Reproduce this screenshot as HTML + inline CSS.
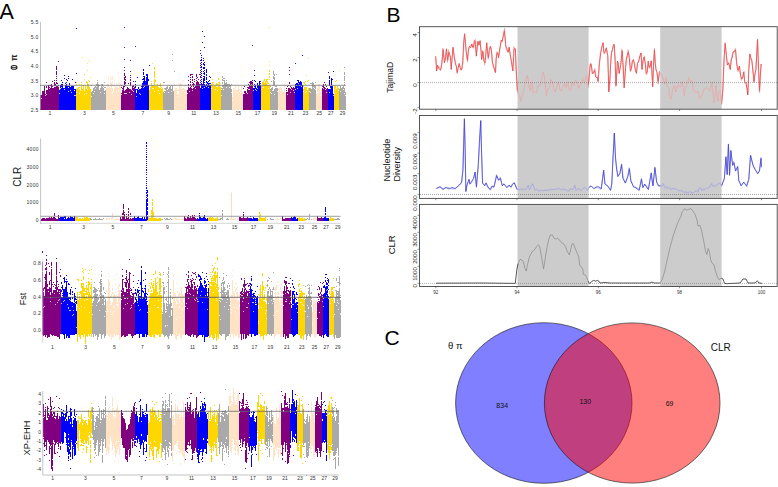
<!DOCTYPE html>
<html><head><meta charset="utf-8"><title>figure</title>
<style>html,body{margin:0;padding:0;background:#fff;width:778px;height:487px;overflow:hidden}svg{display:block}text{font-family:"Liberation Sans",sans-serif}</style>
</head><body>
<svg width="778" height="487" viewBox="0 0 778 487" shape-rendering="auto">
<path d="M40.5 110V96M40.5 96V95M40.5 86V85M40.5 96V95M41.5 110V96M41.5 96V95M41.5 96V95M42.5 110V92M42.5 93V92M42.5 92V91M43.5 110V91M44.5 110V86M45.5 110V94M46.5 110V91M46.5 91V90M46.5 88V87M46.5 87V86M47.5 110V90M48.5 110V87M48.5 86V85M48.5 87V86M49.5 110V87M49.5 86V85M50.5 110V88M50.5 86V85M51.5 110V87M51.5 86V85M51.5 85V84M51.5 87V86M52.5 110V88M52.5 87V86M53.5 110V88M54.5 110V83M54.5 83V82M55.5 110V84M55.5 85V84M56.5 110V86M56.5 83V82M56.5 84V83M56.5 81V80M57.5 110V86M57.5 84V83M58.5 110V85M58.5 86V85" stroke="#800080" stroke-width="1" fill="none" shape-rendering="crispEdges"/>
<path d="M41.5 98v1M45.5 95v1M46.5 94v1M49.5 88v1M54.5 86v1M55.5 86v1M58.5 86v1" stroke="#ffffff" stroke-width="1" fill="none" shape-rendering="crispEdges" stroke-opacity="0.8"/>
<path d="M59.5 110V91M59.5 91V90M60.5 110V86M60.5 86V85M61.5 110V84M61.5 81V80M62.5 110V82M63.5 110V88M64.5 110V88M65.5 110V85M65.5 84V83M66.5 110V84M66.5 80V79M66.5 83V82M67.5 110V86M67.5 81V80M68.5 110V88M68.5 87V86M69.5 110V83M69.5 84V83M70.5 110V87M71.5 110V88M71.5 88V87M71.5 87V86M72.5 110V86M72.5 80V79M73.5 110V86M73.5 87V86M74.5 110V91M74.5 90V89M75.5 110V91M75.5 90V89M75.5 83V82M75.5 91V90" stroke="#0000ff" stroke-width="1" fill="none" shape-rendering="crispEdges"/>
<path d="M59.5 93v1M60.5 88v1M61.5 87v1M62.5 83v1M64.5 89v1M68.5 91v1M69.5 85v1M70.5 90v1M71.5 92v1M74.5 95v1M75.5 95v1" stroke="#ffffff" stroke-width="1" fill="none" shape-rendering="crispEdges" stroke-opacity="0.8"/>
<path d="M76.5 110V89M76.5 83V82M76.5 85V84M77.5 110V88M78.5 110V87M79.5 110V89M79.5 85V84M79.5 88V87M80.5 110V91M81.5 110V86M81.5 83V82M81.5 87V86M81.5 85V84M82.5 110V90M82.5 90V89M83.5 110V86M83.5 86V85M84.5 110V91M84.5 92V91M85.5 110V86M85.5 86V85M86.5 110V89M86.5 83V82M87.5 110V84M87.5 84V83M87.5 84V83M87.5 83V82M88.5 110V84M89.5 110V88M89.5 88V87M89.5 88V87M89.5 82V81M90.5 110V89" stroke="#ffd700" stroke-width="1" fill="none" shape-rendering="crispEdges"/>
<path d="M76.5 92v1M78.5 89v1M79.5 93v1M84.5 94v1M86.5 93v1M87.5 89v1" stroke="#ffffff" stroke-width="1" fill="none" shape-rendering="crispEdges" stroke-opacity="0.8"/>
<path d="M91.5 110V92M91.5 86V85M92.5 110V92M92.5 92V91M93.5 110V88M94.5 110V87M95.5 110V86M96.5 110V85M96.5 85V84M97.5 110V88M97.5 88V87M97.5 87V86M97.5 86V85M98.5 110V84M98.5 85V84M98.5 85V84M99.5 110V90M99.5 86V85M100.5 110V88M101.5 110V87M101.5 87V86M101.5 85V84M102.5 110V85M102.5 85V84M102.5 85V84M103.5 110V88M103.5 87V86M104.5 110V91M104.5 83V82M104.5 88V87M105.5 110V90M105.5 88V87M105.5 88V87" stroke="#a9a9a9" stroke-width="1" fill="none" shape-rendering="crispEdges"/>
<path d="M91.5 96v1M93.5 93v1M94.5 91v1M95.5 88v1M96.5 86v1M100.5 92v1M102.5 86v1M104.5 93v1" stroke="#ffffff" stroke-width="1" fill="none" shape-rendering="crispEdges" stroke-opacity="0.8"/>
<path d="M106.5 110V88M106.5 78V77M107.5 110V84M108.5 110V88M108.5 87V86M109.5 110V88M109.5 88V87M110.5 110V88M111.5 110V83M111.5 80V79M111.5 83V82M111.5 78V77M112.5 110V88M112.5 79V78M113.5 110V92M114.5 110V85M115.5 110V87M115.5 87V86M116.5 110V87M116.5 84V83M117.5 110V87M118.5 110V88M119.5 110V83M120.5 110V86M120.5 85V84" stroke="#ffe3c4" stroke-width="1" fill="none" shape-rendering="crispEdges"/>
<path d="M112.5 92v1M113.5 95v1M114.5 87v1M116.5 91v1M118.5 90v1M119.5 84v1" stroke="#ffffff" stroke-width="1" fill="none" shape-rendering="crispEdges" stroke-opacity="0.8"/>
<path d="M121.5 110V93M121.5 88V87M121.5 86V85M122.5 110V88M123.5 110V86M124.5 110V91M125.5 110V90M126.5 110V89M127.5 110V87M128.5 110V88M128.5 84V83M129.5 110V89M130.5 110V89M131.5 110V90M132.5 110V87M132.5 87V86M133.5 110V88M133.5 87V86M133.5 86V85M133.5 82V81M134.5 110V88M134.5 88V87" stroke="#800080" stroke-width="1" fill="none" shape-rendering="crispEdges"/>
<path d="M121.5 94v1M122.5 89v1M124.5 93v1M125.5 93v1M126.5 93v1M129.5 92v1M131.5 94v1M132.5 90v1M133.5 91v1" stroke="#ffffff" stroke-width="1" fill="none" shape-rendering="crispEdges" stroke-opacity="0.8"/>
<path d="M135.5 110V86M135.5 82V81M135.5 85V84M135.5 85V84M136.5 110V93M136.5 90V89M137.5 110V89M137.5 78V77M138.5 110V87M138.5 88V87M139.5 110V89M140.5 110V89M141.5 110V86M142.5 110V84M142.5 80V79M142.5 84V83M143.5 110V85M144.5 110V82M145.5 110V81M146.5 110V77M146.5 75V74M146.5 76V75M146.5 76V75M147.5 110V80M147.5 75V74M147.5 80V79M147.5 77V76M148.5 110V85M148.5 81V80M148.5 80V79" stroke="#0000ff" stroke-width="1" fill="none" shape-rendering="crispEdges"/>
<path d="M135.5 88v1M136.5 96v1M138.5 89v1M139.5 93v1M140.5 94v1M141.5 87v1M143.5 87v1M144.5 86v1" stroke="#ffffff" stroke-width="1" fill="none" shape-rendering="crispEdges" stroke-opacity="0.8"/>
<path d="M149.5 110V90M150.5 110V87M151.5 110V83M151.5 82V81M151.5 82V81M152.5 110V85M153.5 110V85M154.5 110V86M154.5 84V83M154.5 85V84M155.5 110V86M155.5 81V80M155.5 82V81M155.5 87V86M156.5 110V86M157.5 110V84M158.5 110V87M158.5 86V85M159.5 110V89M159.5 89V88M159.5 90V89M159.5 86V85M160.5 110V85M160.5 85V84M160.5 84V83M160.5 85V84M161.5 110V90M161.5 90V89M161.5 90V89M161.5 88V87M162.5 110V88" stroke="#ffd700" stroke-width="1" fill="none" shape-rendering="crispEdges"/>
<path d="M152.5 88v1M153.5 88v1M154.5 91v1M158.5 90v1M159.5 93v1M160.5 87v1" stroke="#ffffff" stroke-width="1" fill="none" shape-rendering="crispEdges" stroke-opacity="0.8"/>
<path d="M163.5 110V93M163.5 93V92M163.5 83V82M164.5 110V91M164.5 83V82M164.5 89V88M165.5 110V88M166.5 110V88M166.5 88V87M167.5 110V86M167.5 87V86M167.5 87V86M168.5 110V89M169.5 110V87M169.5 86V85M170.5 110V86M171.5 110V89M172.5 110V85M173.5 110V93M173.5 93V92M173.5 92V91M173.5 92V91" stroke="#a9a9a9" stroke-width="1" fill="none" shape-rendering="crispEdges"/>
<path d="M164.5 92v1M165.5 90v1M167.5 89v1M168.5 92v1M171.5 91v1" stroke="#ffffff" stroke-width="1" fill="none" shape-rendering="crispEdges" stroke-opacity="0.8"/>
<path d="M174.5 110V90M174.5 85V84M175.5 110V89M175.5 89V88M176.5 110V88M177.5 110V94M177.5 91V90M178.5 110V93M178.5 91V90M178.5 84V83M178.5 90V89M179.5 110V88M179.5 87V86M179.5 85V84M179.5 88V87M180.5 110V85M180.5 85V84M180.5 84V83M181.5 110V89M181.5 85V84M181.5 86V85M181.5 88V87M182.5 110V89M182.5 89V88M182.5 89V88M182.5 82V81M183.5 110V88M183.5 81V80M184.5 110V89M184.5 87V86M185.5 110V91M185.5 91V90M185.5 92V91M186.5 110V90" stroke="#ffe3c4" stroke-width="1" fill="none" shape-rendering="crispEdges"/>
<path d="M177.5 96v1M178.5 94v1M180.5 87v1M181.5 92v1M182.5 90v1M183.5 90v1M184.5 92v1M186.5 92v1" stroke="#ffffff" stroke-width="1" fill="none" shape-rendering="crispEdges" stroke-opacity="0.8"/>
<path d="M187.5 110V90M188.5 110V84M188.5 81V80M188.5 77V76M189.5 110V88M190.5 110V84M191.5 110V86M191.5 75V74M192.5 110V89M192.5 78V77M192.5 75V74M193.5 110V83M194.5 110V87M194.5 82V81M194.5 80V79M194.5 85V84M195.5 110V86M196.5 110V83M196.5 83V82M196.5 83V82M196.5 83V82M197.5 110V82M197.5 78V77M197.5 82V81M197.5 82V81M198.5 110V82M198.5 83V82M198.5 80V79M199.5 110V84M199.5 75V74" stroke="#800080" stroke-width="1" fill="none" shape-rendering="crispEdges"/>
<path d="M187.5 93v1M188.5 86v1M189.5 91v1M190.5 86v1M191.5 87v1M192.5 90v1M193.5 87v1M195.5 88v1" stroke="#ffffff" stroke-width="1" fill="none" shape-rendering="crispEdges" stroke-opacity="0.8"/>
<path d="M200.5 110V88M201.5 110V83M202.5 110V84M203.5 110V82M203.5 82V81M203.5 82V81M203.5 80V79M204.5 110V84M204.5 80V79M205.5 110V85M206.5 110V84M207.5 110V82M208.5 110V84M208.5 82V81M208.5 84V83M209.5 110V83M209.5 84V83M209.5 81V80M209.5 77V76M210.5 110V85M210.5 86V85M210.5 84V83M210.5 78V77" stroke="#0000ff" stroke-width="1" fill="none" shape-rendering="crispEdges"/>
<path d="M202.5 88v1M204.5 87v1M206.5 86v1M207.5 84v1M208.5 87v1M209.5 84v1" stroke="#ffffff" stroke-width="1" fill="none" shape-rendering="crispEdges" stroke-opacity="0.8"/>
<path d="M211.5 110V85M211.5 85V84M211.5 85V84M211.5 85V84M212.5 110V82M212.5 80V79M213.5 110V84M213.5 83V82M214.5 110V86M215.5 110V85M216.5 110V83M217.5 110V87M217.5 85V84M218.5 110V84M218.5 83V82M218.5 79V78M218.5 80V79M219.5 110V82M220.5 110V87" stroke="#ffd700" stroke-width="1" fill="none" shape-rendering="crispEdges"/>
<path d="M211.5 88v1M212.5 84v1M213.5 85v1M215.5 89v1M216.5 86v1M217.5 90v1M218.5 85v1" stroke="#ffffff" stroke-width="1" fill="none" shape-rendering="crispEdges" stroke-opacity="0.8"/>
<path d="M221.5 110V90M221.5 89V88M222.5 110V90M222.5 89V88M222.5 89V88M222.5 90V89M223.5 110V85M223.5 79V78M223.5 86V85M223.5 81V80M224.5 110V80M224.5 79V78M225.5 110V83M226.5 110V83M226.5 83V82M226.5 81V80M226.5 83V82M227.5 110V85M227.5 85V84M228.5 110V84M229.5 110V84M230.5 110V85M231.5 110V89M231.5 85V84" stroke="#a9a9a9" stroke-width="1" fill="none" shape-rendering="crispEdges"/>
<path d="M221.5 95v1M223.5 89v1M226.5 87v1M228.5 85v1M229.5 87v1M231.5 92v1" stroke="#ffffff" stroke-width="1" fill="none" shape-rendering="crispEdges" stroke-opacity="0.8"/>
<path d="M232.5 110V97M233.5 110V89M233.5 82V81M233.5 89V88M234.5 110V90M234.5 89V88M235.5 110V86M235.5 86V85M236.5 110V90M236.5 83V82M237.5 110V90M237.5 91V90M238.5 110V86M239.5 110V89M240.5 110V91M240.5 91V90M241.5 110V86M242.5 110V92" stroke="#ffe3c4" stroke-width="1" fill="none" shape-rendering="crispEdges"/>
<path d="M232.5 100v1M235.5 88v1M237.5 92v1M239.5 91v1M240.5 92v1M242.5 97v1" stroke="#ffffff" stroke-width="1" fill="none" shape-rendering="crispEdges" stroke-opacity="0.8"/>
<path d="M243.5 110V94M243.5 89V88M244.5 110V92M244.5 87V86M244.5 87V86M244.5 92V91M245.5 110V91M246.5 110V93M247.5 110V89M247.5 88V87M248.5 110V87M248.5 85V84M249.5 110V85M249.5 83V82M250.5 110V82M250.5 82V81M251.5 110V81M252.5 110V82M252.5 81V80" stroke="#800080" stroke-width="1" fill="none" shape-rendering="crispEdges"/>
<path d="M244.5 93v1M247.5 93v1M248.5 89v1M249.5 89v1M250.5 85v1M251.5 84v1M252.5 85v1" stroke="#ffffff" stroke-width="1" fill="none" shape-rendering="crispEdges" stroke-opacity="0.8"/>
<path d="M253.5 110V88M254.5 110V86M254.5 81V80M254.5 85V84M255.5 110V86M255.5 86V85M255.5 82V81M256.5 110V88M257.5 110V84M257.5 84V83M257.5 84V83M258.5 110V86M258.5 86V85M259.5 110V82M259.5 82V81M260.5 110V86M260.5 84V83M260.5 82V81M260.5 86V85" stroke="#0000ff" stroke-width="1" fill="none" shape-rendering="crispEdges"/>
<path d="M253.5 90v1M254.5 87v1M255.5 89v1M256.5 90v1M257.5 88v1" stroke="#ffffff" stroke-width="1" fill="none" shape-rendering="crispEdges" stroke-opacity="0.8"/>
<path d="M261.5 110V85M262.5 110V82M262.5 83V82M263.5 110V82M263.5 82V81M263.5 82V81M264.5 110V83M264.5 80V79M264.5 81V80M265.5 110V81M265.5 82V81M266.5 110V80M266.5 80V79M267.5 110V81M267.5 80V79M268.5 110V85M268.5 84V83M269.5 110V85M269.5 80V79" stroke="#ffd700" stroke-width="1" fill="none" shape-rendering="crispEdges"/>
<path d="M262.5 85v1M263.5 87v1M266.5 82v1M267.5 84v1M268.5 88v1" stroke="#ffffff" stroke-width="1" fill="none" shape-rendering="crispEdges" stroke-opacity="0.8"/>
<path d="M270.5 110V89M270.5 87V86M271.5 110V88M271.5 82V81M271.5 89V88M272.5 110V87M273.5 110V91M273.5 83V82M274.5 110V89M274.5 80V79M274.5 78V77M275.5 110V88M275.5 87V86M276.5 110V89M276.5 75V74M276.5 89V88M276.5 87V86M277.5 110V88" stroke="#a9a9a9" stroke-width="1" fill="none" shape-rendering="crispEdges"/>
<path d="M270.5 92v1M271.5 93v1M272.5 90v1M274.5 94v1M277.5 91v1" stroke="#ffffff" stroke-width="1" fill="none" shape-rendering="crispEdges" stroke-opacity="0.8"/>
<path d="M278.5 110V92M278.5 90V89M279.5 110V88M280.5 110V88M280.5 88V87M281.5 110V88M281.5 86V85M282.5 110V91M283.5 110V92M284.5 110V86M284.5 86V85M284.5 85V84M285.5 110V93M285.5 83V82" stroke="#ffe3c4" stroke-width="1" fill="none" shape-rendering="crispEdges"/>
<path d="M280.5 90v1" stroke="#ffffff" stroke-width="1" fill="none" shape-rendering="crispEdges" stroke-opacity="0.8"/>
<path d="M286.5 110V90M286.5 89V88M287.5 110V92M287.5 87V86M288.5 110V89M288.5 89V88M288.5 86V85M289.5 110V88M289.5 83V82M289.5 84V83M290.5 110V89M290.5 87V86M291.5 110V87M292.5 110V88M293.5 110V88M293.5 88V87M294.5 110V88" stroke="#800080" stroke-width="1" fill="none" shape-rendering="crispEdges"/>
<path d="M286.5 91v1M287.5 94v1M290.5 92v1M291.5 89v1M293.5 90v1M294.5 92v1" stroke="#ffffff" stroke-width="1" fill="none" shape-rendering="crispEdges" stroke-opacity="0.8"/>
<path d="M295.5 110V84M296.5 110V83M297.5 110V84M297.5 81V80M297.5 84V83M297.5 84V83M298.5 110V81M298.5 81V80M298.5 81V80M298.5 81V80M299.5 110V82M300.5 110V81M301.5 110V82M302.5 110V85" stroke="#0000ff" stroke-width="1" fill="none" shape-rendering="crispEdges"/>
<path d="M295.5 89v1M296.5 85v1M297.5 88v1M298.5 83v1M299.5 85v1M301.5 86v1" stroke="#ffffff" stroke-width="1" fill="none" shape-rendering="crispEdges" stroke-opacity="0.8"/>
<path d="M303.5 110V89M303.5 87V86M303.5 86V85M303.5 83V82M304.5 110V88M304.5 83V82M304.5 84V83M304.5 88V87M305.5 110V87M305.5 82V81M305.5 88V87M305.5 85V84M306.5 110V87M307.5 110V91M307.5 82V81M307.5 91V90M307.5 91V90M308.5 110V89M308.5 81V80M308.5 89V88" stroke="#ffd700" stroke-width="1" fill="none" shape-rendering="crispEdges"/>
<path d="M303.5 91v1M305.5 92v1M306.5 91v1" stroke="#ffffff" stroke-width="1" fill="none" shape-rendering="crispEdges" stroke-opacity="0.8"/>
<path d="M309.5 110V88M310.5 110V89M310.5 89V88M310.5 89V88M310.5 84V83M311.5 110V90M311.5 90V89M311.5 84V83M312.5 110V84M312.5 84V83M312.5 83V82M313.5 110V83M314.5 110V85M315.5 110V87M315.5 83V82M315.5 87V86" stroke="#a9a9a9" stroke-width="1" fill="none" shape-rendering="crispEdges"/>
<path d="M309.5 91v1M310.5 92v1M313.5 87v1M314.5 88v1M315.5 89v1" stroke="#ffffff" stroke-width="1" fill="none" shape-rendering="crispEdges" stroke-opacity="0.8"/>
<path d="M316.5 110V94M317.5 110V88M318.5 110V87M318.5 87V86M318.5 85V84M318.5 86V85M319.5 110V87M319.5 85V84M319.5 87V86M320.5 110V93M321.5 110V90" stroke="#ffe3c4" stroke-width="1" fill="none" shape-rendering="crispEdges"/>
<path d="M317.5 92v1M318.5 92v1M320.5 95v1M321.5 94v1" stroke="#ffffff" stroke-width="1" fill="none" shape-rendering="crispEdges" stroke-opacity="0.8"/>
<path d="M322.5 110V90M322.5 87V86M322.5 89V88M322.5 90V89M323.5 110V85M323.5 86V85M323.5 86V85M323.5 85V84M324.5 110V87M324.5 83V82M325.5 110V90M325.5 89V88M325.5 85V84M326.5 110V89M326.5 87V86M327.5 110V88" stroke="#800080" stroke-width="1" fill="none" shape-rendering="crispEdges"/>
<path d="M323.5 88v1M326.5 92v1" stroke="#ffffff" stroke-width="1" fill="none" shape-rendering="crispEdges" stroke-opacity="0.8"/>
<path d="M328.5 110V89M329.5 110V90M329.5 90V89M330.5 110V86M331.5 110V80M331.5 79V78M331.5 81V80M331.5 80V79M332.5 110V86M332.5 80V79M333.5 110V94" stroke="#0000ff" stroke-width="1" fill="none" shape-rendering="crispEdges"/>
<path d="M329.5 92v1M330.5 88v1M331.5 85v1M333.5 95v1" stroke="#ffffff" stroke-width="1" fill="none" shape-rendering="crispEdges" stroke-opacity="0.8"/>
<path d="M334.5 110V88M334.5 86V85M334.5 88V87M334.5 87V86M335.5 110V87M335.5 87V86M335.5 82V81M335.5 88V87M336.5 110V89M336.5 81V80M337.5 110V86M337.5 87V86M338.5 110V88" stroke="#ffd700" stroke-width="1" fill="none" shape-rendering="crispEdges"/>
<path d="M334.5 93v1M335.5 89v1M338.5 90v1" stroke="#ffffff" stroke-width="1" fill="none" shape-rendering="crispEdges" stroke-opacity="0.8"/>
<path d="M339.5 110V89M340.5 110V87M340.5 87V86M341.5 110V90M341.5 90V89M341.5 89V88M342.5 110V88M342.5 88V87M343.5 110V87M343.5 87V86M343.5 87V86M344.5 110V88M344.5 79V78M345.5 110V92" stroke="#a9a9a9" stroke-width="1" fill="none" shape-rendering="crispEdges"/>
<path d="M340.5 91v1M343.5 89v1M344.5 93v1M345.5 95v1" stroke="#ffffff" stroke-width="1" fill="none" shape-rendering="crispEdges" stroke-opacity="0.8"/>
<path d="M58.5 61v1M46.5 82v1M52.5 81v1M54.5 80v1M124.5 27v1M124.5 47v1M135.5 46v1M124.5 59v1M130.5 60v1M124.5 67v1M124.5 70v1M130.5 71v1M252.5 45v1M289.5 67v1M289.5 70v1M289.5 74v1M295.5 63v1M328.5 72v1M200.5 50v1M200.5 53v1" stroke="#800080" stroke-width="1" fill="none" shape-rendering="crispEdges"/>
<path d="M56.5 66v1M56.5 67v1M56.5 68v1M56.5 69v1M56.5 71v1M56.5 72v1M56.5 73v1M56.5 74v1M56.5 76v1M56.5 78v1" stroke="#800080" stroke-width="1" fill="none" shape-rendering="crispEdges"/>
<path d="M124.5 73v1M124.5 74v1M124.5 75v1M124.5 77v1M124.5 78v1M124.5 79v1M124.5 81v1M124.5 82v1M124.5 83v1M124.5 84v1M124.5 86v1" stroke="#800080" stroke-width="1" fill="none" shape-rendering="crispEdges"/>
<path d="M125.5 76v1M125.5 77v1M125.5 79v1M125.5 80v1M125.5 82v1M125.5 83v1M125.5 85v1" stroke="#800080" stroke-width="1" fill="none" shape-rendering="crispEdges"/>
<path d="M130.5 75v1M130.5 77v1M130.5 79v1M130.5 80v1M130.5 82v1M130.5 83v1M130.5 84v1M130.5 85v1" stroke="#800080" stroke-width="1" fill="none" shape-rendering="crispEdges"/>
<path d="M190.5 74v1M190.5 75v1M190.5 77v1M190.5 79v1M190.5 81v1M190.5 82v1M190.5 84v1M190.5 85v1" stroke="#800080" stroke-width="1" fill="none" shape-rendering="crispEdges"/>
<path d="M192.5 74v1M192.5 76v1M192.5 77v1M192.5 79v1M192.5 80v1M192.5 82v1M192.5 84v1" stroke="#800080" stroke-width="1" fill="none" shape-rendering="crispEdges"/>
<path d="M196.5 74v1M196.5 75v1M196.5 76v1M196.5 78v1M196.5 80v1M196.5 82v1M196.5 83v1M196.5 84v1" stroke="#800080" stroke-width="1" fill="none" shape-rendering="crispEdges"/>
<path d="M200.5 60v1M200.5 63v1M200.5 65v1M200.5 67v1M200.5 70v1M200.5 72v1M200.5 74v1M200.5 76v1M200.5 77v1M200.5 80v1M200.5 82v1M200.5 84v1" stroke="#800080" stroke-width="1" fill="none" shape-rendering="crispEdges"/>
<path d="M64.5 75v1M64.5 78v1M68.5 76v1M68.5 78v1M76.5 73v1M76.5 28v1M149.5 65v1M202.5 31v1M204.5 36v1M202.5 42v1M204.5 47v1M254.5 70v1M254.5 75v1M302.5 55v1M333.5 71v1" stroke="#0000ff" stroke-width="1" fill="none" shape-rendering="crispEdges"/>
<path d="M143.5 69v1M143.5 70v1M143.5 72v1M143.5 73v1M143.5 74v1M143.5 76v1M143.5 78v1M143.5 79v1M143.5 81v1M143.5 82v1M143.5 83v1M143.5 84v1M143.5 85v1" stroke="#0000ff" stroke-width="1" fill="none" shape-rendering="crispEdges"/>
<path d="M147.5 74v1M147.5 75v1M147.5 77v1M147.5 78v1M147.5 79v1M147.5 80v1M147.5 82v1M147.5 83v1M147.5 85v1" stroke="#0000ff" stroke-width="1" fill="none" shape-rendering="crispEdges"/>
<path d="M146.5 77V86" stroke="#0000ff" stroke-width="1" shape-rendering="crispEdges"/>
<path d="M144.5 76V86" stroke="#0000ff" stroke-width="1" shape-rendering="crispEdges"/>
<path d="M201.5 55v1M201.5 57v1M201.5 59v1M201.5 60v1M201.5 62v1M201.5 64v1M201.5 66v1M201.5 67v1M201.5 69v1M201.5 71v1M201.5 73v1M201.5 75v1M201.5 77v1M201.5 79v1M201.5 81v1M201.5 83v1M201.5 85v1" stroke="#0000ff" stroke-width="1" fill="none" shape-rendering="crispEdges"/>
<path d="M203.5 58v1M203.5 60v1M203.5 63v1M203.5 64v1M203.5 67v1M203.5 68v1M203.5 71v1M203.5 73v1M203.5 76v1M203.5 78v1M203.5 80v1M203.5 82v1M203.5 84v1" stroke="#0000ff" stroke-width="1" fill="none" shape-rendering="crispEdges"/>
<path d="M204.5 62v1M204.5 64v1M204.5 65v1M204.5 67v1M204.5 68v1M204.5 70v1M204.5 72v1M204.5 73v1M204.5 74v1M204.5 76v1M204.5 77v1M204.5 78v1M204.5 80v1M204.5 82v1M204.5 84v1M204.5 85v1" stroke="#0000ff" stroke-width="1" fill="none" shape-rendering="crispEdges"/>
<path d="M206.5 69v1M206.5 70v1M206.5 71v1M206.5 72v1M206.5 74v1M206.5 75v1M206.5 77v1M206.5 78v1M206.5 79v1M206.5 81v1M206.5 82v1M206.5 84v1M206.5 85v1" stroke="#0000ff" stroke-width="1" fill="none" shape-rendering="crispEdges"/>
<path d="M329.5 76v1M329.5 77v1M329.5 78v1M329.5 80v1M329.5 81v1M329.5 82v1M329.5 83v1M329.5 84v1M329.5 85v1" stroke="#0000ff" stroke-width="1" fill="none" shape-rendering="crispEdges"/>
<path d="M82.5 57v1M89.5 60v1M87.5 63v1M84.5 74v1M87.5 70v1M90.5 77v1M152.5 63v1M269.5 27v1M269.5 61v1M269.5 65v1M308.5 58v1M306.5 75v1M339.5 70v1M84.5 79v1M88.5 80v1M86.5 81v1" stroke="#ffe45a" stroke-width="1" fill="none" shape-rendering="crispEdges"/>
<path d="M154.5 67v1M154.5 68v1M154.5 69v1M154.5 71v1M154.5 72v1M154.5 73v1M154.5 74v1M154.5 75v1M154.5 76v1M154.5 77v1M154.5 79v1M154.5 80v1M154.5 81v1M154.5 82v1M154.5 83v1M154.5 84v1M154.5 86v1" stroke="#ffd700" stroke-width="1" fill="none" shape-rendering="crispEdges"/>
<path d="M269.5 70v1M269.5 71v1M269.5 73v1M269.5 74v1M269.5 76v1M269.5 77v1M269.5 79v1" stroke="#ffd700" stroke-width="1" fill="none" shape-rendering="crispEdges"/>
<path d="M172.5 54v1M172.5 60v1M174.5 71v1M344.5 67v1" stroke="#a9a9a9" stroke-width="1" fill="none" shape-rendering="crispEdges"/>
<path d="M97.5 80v1M97.5 82v1M97.5 83v1M97.5 84v1M97.5 86v1" stroke="#a9a9a9" stroke-width="1" fill="none" shape-rendering="crispEdges"/>
<path d="M273.5 71v1M273.5 72v1M273.5 73v1M273.5 74v1M273.5 76v1M273.5 77v1M273.5 78v1M273.5 80v1M273.5 81v1M273.5 82v1M273.5 83v1M273.5 84v1M273.5 85v1" stroke="#a9a9a9" stroke-width="1" fill="none" shape-rendering="crispEdges"/>
<path d="M274.5 74v1M274.5 75v1M274.5 77v1M274.5 78v1M274.5 79v1M274.5 81v1M274.5 82v1M274.5 83v1M274.5 84v1M274.5 85v1" stroke="#a9a9a9" stroke-width="1" fill="none" shape-rendering="crispEdges"/>
<path d="M222.5 76v1M222.5 77v1M222.5 79v1M222.5 80v1M222.5 82v1M222.5 83v1M222.5 85v1M222.5 86v1" stroke="#a9a9a9" stroke-width="1" fill="none" shape-rendering="crispEdges"/>
<path d="M344.5 72v1M344.5 73v1M344.5 74v1M344.5 76v1M344.5 77v1M344.5 79v1M344.5 80v1M344.5 82v1M344.5 84v1M344.5 85v1" stroke="#a9a9a9" stroke-width="1" fill="none" shape-rendering="crispEdges"/>
<path d="M108.5 76v1M108.5 77v1M108.5 78v1M108.5 79v1M108.5 81v1M108.5 83v1M108.5 84v1M108.5 85v1" stroke="#ffeedd" stroke-width="1" fill="none" shape-rendering="crispEdges"/>
<path d="M110.5 75v1M110.5 77v1M110.5 78v1M110.5 80v1M110.5 81v1M110.5 83v1M110.5 84v1M110.5 85v1" stroke="#ffeedd" stroke-width="1" fill="none" shape-rendering="crispEdges"/>
<path d="M112.5 76v1M112.5 77v1M112.5 79v1M112.5 81v1M112.5 82v1M112.5 83v1M112.5 85v1" stroke="#ffeedd" stroke-width="1" fill="none" shape-rendering="crispEdges"/>
<path d="M114.5 79v1M114.5 80v1M114.5 81v1M114.5 83v1M114.5 85v1M114.5 86v1" stroke="#ffeedd" stroke-width="1" fill="none" shape-rendering="crispEdges"/>
<path d="M118.5 70v1M118.5 72v1M118.5 73v1M118.5 75v1M118.5 77v1M118.5 78v1M118.5 80v1M118.5 82v1M118.5 83v1M118.5 85v1" stroke="#ffeedd" stroke-width="1" fill="none" shape-rendering="crispEdges"/>
<path d="M40.5 22V109.8" stroke="#aaa" stroke-width="0.7"/>
<path d="M40.5 85.3H345.7" stroke="#777" stroke-width="0.8"/>
<text x="38.8" y="24.2" font-size="5" text-anchor="end" fill="#333" letter-spacing="0.4">5.5</text>
<text x="38.8" y="38.8" font-size="5" text-anchor="end" fill="#333" letter-spacing="0.4">5.0</text>
<text x="38.8" y="53.4" font-size="5" text-anchor="end" fill="#333" letter-spacing="0.4">4.5</text>
<text x="38.8" y="68" font-size="5" text-anchor="end" fill="#333" letter-spacing="0.4">4.0</text>
<text x="38.8" y="82.6" font-size="5" text-anchor="end" fill="#333" letter-spacing="0.4">3.5</text>
<text x="38.8" y="97.2" font-size="5" text-anchor="end" fill="#333" letter-spacing="0.4">3.0</text>
<text x="38.8" y="111.8" font-size="5" text-anchor="end" fill="#333" letter-spacing="0.4">2.5</text>
<text x="50" y="115" font-size="5" text-anchor="middle" fill="#333" >1</text>
<text x="84.3" y="115" font-size="5" text-anchor="middle" fill="#333" >3</text>
<text x="113.5" y="115" font-size="5" text-anchor="middle" fill="#333" >5</text>
<text x="142.9" y="115" font-size="5" text-anchor="middle" fill="#333" >7</text>
<text x="168.7" y="115" font-size="5" text-anchor="middle" fill="#333" >9</text>
<text x="193.8" y="115" font-size="5" text-anchor="middle" fill="#333" >11</text>
<text x="216" y="115" font-size="5" text-anchor="middle" fill="#333" >13</text>
<text x="238.2" y="115" font-size="5" text-anchor="middle" fill="#333" >15</text>
<text x="257.6" y="115" font-size="5" text-anchor="middle" fill="#333" >17</text>
<text x="274.3" y="115" font-size="5" text-anchor="middle" fill="#333" >19</text>
<text x="290.9" y="115" font-size="5" text-anchor="middle" fill="#333" >21</text>
<text x="305.5" y="115" font-size="5" text-anchor="middle" fill="#333" >23</text>
<text x="319.2" y="115" font-size="5" text-anchor="middle" fill="#333" >25</text>
<text x="330.8" y="115" font-size="5" text-anchor="middle" fill="#333" >27</text>
<text x="342.6" y="115" font-size="5" text-anchor="middle" fill="#333" >29</text>
<ellipse cx="14.1" cy="67.4" rx="2.9" ry="1.9" fill="none" stroke="#222" stroke-width="1.1"/>
<path d="M11.3 67.4H16.9" stroke="#222" stroke-width="0.9"/>
<text x="17.3" y="57.7" font-size="8.6" text-anchor="middle" fill="#222" transform="rotate(-90 17.3 57.7)" font-weight="bold">π</text>
<path d="M41.5 221V219M42.5 221V218M43.5 221V218M44.5 221V218M45.5 221V219M46.5 221V218M47.5 221V218M48.5 221V218M49.5 221V217M50.5 221V218M51.5 221V217M52.5 221V218M53.5 221V217M54.5 221V217M55.5 221V218M56.5 221V219M57.5 221V219M58.5 221V215" stroke="#800080" stroke-width="1" fill="none" shape-rendering="crispEdges"/>
<path d="M59.5 221V218M60.5 221V217M61.5 221V217M62.5 221V217M63.5 221V217M64.5 221V219M65.5 221V216M66.5 221V219M67.5 221V218M68.5 221V217M69.5 221V218M70.5 221V219M71.5 221V217M72.5 221V217M73.5 221V218M74.5 221V217" stroke="#0000ff" stroke-width="1" fill="none" shape-rendering="crispEdges"/>
<path d="M75.5 221V217M76.5 221V217M77.5 221V217M78.5 221V219M79.5 221V218M80.5 221V218M81.5 221V219M82.5 221V218M83.5 221V219M84.5 221V217M85.5 221V218M86.5 221V217M87.5 221V217M88.5 221V218M89.5 221V218" stroke="#ffd700" stroke-width="1" fill="none" shape-rendering="crispEdges"/>
<path d="M90.5 220V219M90.5 219V218M91.5 220V219M93.5 220V219M94.5 220V219M95.5 220V219M95.5 219V218M96.5 220V219M97.5 220V219M98.5 220V219M99.5 220V219M99.5 219V218M100.5 220V219M101.5 220V219M102.5 220V219M103.5 219V218" stroke="#a9a9a9" stroke-width="1" fill="none" shape-rendering="crispEdges"/>
<path d="M106.5 220V219M106.5 219V218M107.5 220V219M107.5 219V218M108.5 220V219M109.5 220V219M109.5 219V218M111.5 220V219M111.5 219V218M112.5 219V218M113.5 220V219M114.5 220V219M115.5 220V219M116.5 220V219M117.5 220V219M117.5 219V218M118.5 220V219M119.5 220V219" stroke="#ffe3c4" stroke-width="1" fill="none" shape-rendering="crispEdges"/>
<path d="M120.5 221V217M121.5 221V219M122.5 221V217M123.5 221V218M124.5 221V218M125.5 221V219M126.5 221V219M127.5 221V218M128.5 221V218M129.5 221V219M130.5 221V218M131.5 221V219M132.5 221V218M133.5 221V218" stroke="#800080" stroke-width="1" fill="none" shape-rendering="crispEdges"/>
<path d="M134.5 221V216M135.5 221V218M136.5 221V218M137.5 221V217M138.5 221V218M139.5 221V218M140.5 221V218M141.5 221V218M142.5 221V217M143.5 221V219M144.5 221V217M145.5 221V219M146.5 221V218" stroke="#0000ff" stroke-width="1" fill="none" shape-rendering="crispEdges"/>
<path d="M147.5 221V218M148.5 221V217M149.5 221V218M150.5 221V218M151.5 221V218M152.5 221V218M153.5 221V218M154.5 221V218M155.5 221V218M156.5 221V218M157.5 221V219M158.5 221V218M159.5 221V218M160.5 221V218" stroke="#ffd700" stroke-width="1" fill="none" shape-rendering="crispEdges"/>
<path d="M161.5 220V219M162.5 220V219M164.5 219V218M165.5 220V219M166.5 220V219M166.5 219V218M167.5 220V219M167.5 219V218M168.5 220V219M169.5 220V219M170.5 219V218M171.5 220V219" stroke="#a9a9a9" stroke-width="1" fill="none" shape-rendering="crispEdges"/>
<path d="M172.5 220V219M173.5 220V219M174.5 219V218M175.5 220V219M175.5 219V218M176.5 220V219M176.5 219V218M177.5 220V219M178.5 220V219M178.5 219V218M179.5 220V219M181.5 220V219M182.5 220V219M182.5 219V218M183.5 220V219" stroke="#ffe3c4" stroke-width="1" fill="none" shape-rendering="crispEdges"/>
<path d="M184.5 221V216M185.5 221V218M186.5 221V219M187.5 221V217M188.5 221V218M189.5 221V218M190.5 221V218M191.5 221V218M192.5 221V215M193.5 221V217M194.5 221V218M195.5 221V218M196.5 221V219" stroke="#800080" stroke-width="1" fill="none" shape-rendering="crispEdges"/>
<path d="M197.5 221V218M198.5 221V219M199.5 221V217M200.5 221V217M201.5 221V218M202.5 221V218M203.5 221V217M204.5 221V218M205.5 221V218M206.5 221V219M207.5 221V218" stroke="#0000ff" stroke-width="1" fill="none" shape-rendering="crispEdges"/>
<path d="M208.5 221V218M209.5 221V217M210.5 221V217M211.5 221V218M212.5 221V217M213.5 221V218M214.5 221V219M215.5 221V218M216.5 221V218M217.5 221V217" stroke="#ffd700" stroke-width="1" fill="none" shape-rendering="crispEdges"/>
<path d="M218.5 220V219M219.5 220V219M220.5 220V219M220.5 219V218M221.5 219V218M222.5 220V219M226.5 220V219M227.5 220V219M227.5 219V218M228.5 220V219" stroke="#a9a9a9" stroke-width="1" fill="none" shape-rendering="crispEdges"/>
<path d="M230.5 220V219M230.5 219V218M231.5 220V219M232.5 220V219M233.5 220V219M234.5 220V219M235.5 220V219M235.5 219V218M237.5 220V219M238.5 220V219" stroke="#ffe3c4" stroke-width="1" fill="none" shape-rendering="crispEdges"/>
<path d="M239.5 221V217M240.5 221V217M241.5 221V218M242.5 221V218M243.5 221V215M244.5 221V218M245.5 221V218M246.5 221V218M247.5 221V217M248.5 221V218" stroke="#800080" stroke-width="1" fill="none" shape-rendering="crispEdges"/>
<path d="M249.5 221V218M250.5 221V218M251.5 221V218M252.5 221V219M253.5 221V217M254.5 221V218M255.5 221V218M256.5 221V218M257.5 221V218" stroke="#0000ff" stroke-width="1" fill="none" shape-rendering="crispEdges"/>
<path d="M258.5 221V219M259.5 221V218M260.5 221V218M261.5 221V218M262.5 221V218M263.5 221V218M264.5 221V218M265.5 221V217" stroke="#ffd700" stroke-width="1" fill="none" shape-rendering="crispEdges"/>
<path d="M267.5 220V219M270.5 220V219M270.5 219V218M271.5 220V219M272.5 220V219M273.5 220V219" stroke="#a9a9a9" stroke-width="1" fill="none" shape-rendering="crispEdges"/>
<path d="M275.5 220V219M276.5 220V219M277.5 220V219M277.5 219V218M278.5 220V219M279.5 220V219M280.5 219V218M281.5 219V218" stroke="#ffe3c4" stroke-width="1" fill="none" shape-rendering="crispEdges"/>
<path d="M282.5 221V219M283.5 221V219M284.5 221V219M285.5 221V218M286.5 221V218M287.5 221V218M288.5 221V218M289.5 221V218M290.5 221V218" stroke="#800080" stroke-width="1" fill="none" shape-rendering="crispEdges"/>
<path d="M291.5 221V217M292.5 221V218M293.5 221V217M294.5 221V219M295.5 221V217M296.5 221V219M297.5 221V218" stroke="#0000ff" stroke-width="1" fill="none" shape-rendering="crispEdges"/>
<path d="M298.5 221V218M299.5 221V217M300.5 221V218M301.5 221V218M302.5 221V217M303.5 221V219M304.5 221V218" stroke="#ffd700" stroke-width="1" fill="none" shape-rendering="crispEdges"/>
<path d="M305.5 220V219M306.5 220V219M307.5 219V218M308.5 220V219M309.5 220V219M311.5 220V219" stroke="#a9a9a9" stroke-width="1" fill="none" shape-rendering="crispEdges"/>
<path d="M312.5 220V219M313.5 220V219M313.5 219V218M314.5 220V219M314.5 219V218M315.5 220V219M315.5 219V218M316.5 220V219" stroke="#ffe3c4" stroke-width="1" fill="none" shape-rendering="crispEdges"/>
<path d="M317.5 221V216M318.5 221V218M319.5 221V218M320.5 221V218M321.5 221V217M322.5 221V218" stroke="#800080" stroke-width="1" fill="none" shape-rendering="crispEdges"/>
<path d="M323.5 221V218M324.5 221V217M325.5 221V217M326.5 221V218M327.5 221V218M328.5 221V218" stroke="#0000ff" stroke-width="1" fill="none" shape-rendering="crispEdges"/>
<path d="M329.5 221V219M330.5 221V217M331.5 221V218M332.5 221V218M333.5 221V218" stroke="#ffd700" stroke-width="1" fill="none" shape-rendering="crispEdges"/>
<path d="M334.5 220V219M335.5 220V219M336.5 220V219M337.5 220V219M337.5 219V218M338.5 220V219M338.5 219V218M339.5 220V219" stroke="#a9a9a9" stroke-width="1" fill="none" shape-rendering="crispEdges"/>
<path d="M54.5 213v1M54.5 214v1M54.5 215v1M54.5 217v1M54.5 218v1M54.5 219v1" stroke="#800080" stroke-width="1" fill="none" shape-rendering="crispEdges"/>
<path d="M123.5 204v1M123.5 205v1M123.5 206v1M123.5 207v1M123.5 208v1M123.5 210v1M123.5 211v1M123.5 212v1M123.5 213v1M123.5 214v1M123.5 216v1M123.5 217v1M123.5 219v1" stroke="#800080" stroke-width="1" fill="none" shape-rendering="crispEdges"/>
<path d="M128.5 208v1M128.5 209v1M128.5 211v1M128.5 212v1M128.5 214v1M128.5 215v1M128.5 217v1M128.5 218v1" stroke="#800080" stroke-width="1" fill="none" shape-rendering="crispEdges"/>
<path d="M124.5 212v1M124.5 214v1M124.5 215v1M124.5 216v1M124.5 217v1M124.5 218v1" stroke="#800080" stroke-width="1" fill="none" shape-rendering="crispEdges"/>
<path d="M122.5 213v1M122.5 214v1M122.5 216v1M122.5 217v1M122.5 218v1" stroke="#800080" stroke-width="1" fill="none" shape-rendering="crispEdges"/>
<path d="M126.5 214v1M126.5 216v1M126.5 217v1M126.5 218v1" stroke="#800080" stroke-width="1" fill="none" shape-rendering="crispEdges"/>
<path d="M130.5 213v1M130.5 214v1M130.5 216v1M130.5 218v1M130.5 219v1" stroke="#800080" stroke-width="1" fill="none" shape-rendering="crispEdges"/>
<path d="M112.5 213v1M112.5 214v1M112.5 215v1M112.5 217v1M112.5 218v1" stroke="#ffd9b0" stroke-width="1" fill="none" shape-rendering="crispEdges"/>
<path d="M138.5 216v1M138.5 217v1M138.5 218v1M138.5 219v1" stroke="#0000ff" stroke-width="1" fill="none" shape-rendering="crispEdges"/>
<path d="M199.5 213v1M199.5 215v1M199.5 216v1M199.5 218v1" stroke="#0000ff" stroke-width="1" fill="none" shape-rendering="crispEdges"/>
<path d="M204.5 215v1M204.5 216v1M204.5 217v1M204.5 218v1" stroke="#0000ff" stroke-width="1" fill="none" shape-rendering="crispEdges"/>
<path d="M222.5 210v1M222.5 211v1M222.5 213v1M222.5 214v1M222.5 215v1M222.5 217v1M222.5 218v1" stroke="#a9a9a9" stroke-width="1" fill="none" shape-rendering="crispEdges"/>
<path d="M243.5 212v1M243.5 214v1M243.5 216v1M243.5 217v1M243.5 219v1" stroke="#800080" stroke-width="1" fill="none" shape-rendering="crispEdges"/>
<path d="M259.5 212v1M259.5 213v1M259.5 215v1M259.5 216v1M259.5 217v1M259.5 219v1" stroke="#ffd700" stroke-width="1" fill="none" shape-rendering="crispEdges"/>
<path d="M260.5 214v1M260.5 215v1M260.5 217v1M260.5 218v1" stroke="#ffd700" stroke-width="1" fill="none" shape-rendering="crispEdges"/>
<path d="M325.5 207v1M325.5 208v1M325.5 209v1M325.5 210v1M325.5 211v1M325.5 213v1M325.5 214v1M325.5 216v1M325.5 217v1M325.5 218v1" stroke="#0000ff" stroke-width="1" fill="none" shape-rendering="crispEdges"/>
<path d="M309.5 214v1M309.5 215v1M309.5 217v1M309.5 218v1" stroke="#a9a9a9" stroke-width="1" fill="none" shape-rendering="crispEdges"/>
<path d="M64.5 216v1M64.5 217v1M64.5 219v1" stroke="#0000ff" stroke-width="1" fill="none" shape-rendering="crispEdges"/>
<path d="M70.5 216v1M70.5 217v1M70.5 218v1" stroke="#0000ff" stroke-width="1" fill="none" shape-rendering="crispEdges"/>
<path d="M74.5 216v1M74.5 217v1M74.5 219v1" stroke="#0000ff" stroke-width="1" fill="none" shape-rendering="crispEdges"/>
<path d="M82.5 216v1M82.5 218v1" stroke="#ffd700" stroke-width="1" fill="none" shape-rendering="crispEdges"/>
<path d="M84.5 216v1M84.5 217v1M84.5 219v1" stroke="#ffd700" stroke-width="1" fill="none" shape-rendering="crispEdges"/>
<path d="M188.5 215v1M188.5 217v1M188.5 218v1" stroke="#800080" stroke-width="1" fill="none" shape-rendering="crispEdges"/>
<path d="M190.5 216v1M190.5 217v1M190.5 218v1" stroke="#800080" stroke-width="1" fill="none" shape-rendering="crispEdges"/>
<path d="M194.5 215v1M194.5 217v1M194.5 218v1" stroke="#800080" stroke-width="1" fill="none" shape-rendering="crispEdges"/>
<path d="M282.5 216v1M282.5 217v1M282.5 218v1" stroke="#800080" stroke-width="1" fill="none" shape-rendering="crispEdges"/>
<path d="M294.5 216v1M294.5 217v1M294.5 218v1" stroke="#0000ff" stroke-width="1" fill="none" shape-rendering="crispEdges"/>
<path d="M250.5 216v1M250.5 218v1M250.5 219v1" stroke="#0000ff" stroke-width="1" fill="none" shape-rendering="crispEdges"/>
<path d="M146.5 142v1M146.5 143v1M146.5 145v1M146.5 146v1M146.5 148v1M146.5 150v1M146.5 152v1M146.5 154v1M146.5 156v1M146.5 157v1M146.5 159v1M146.5 161v1M146.5 163v1M146.5 165v1M146.5 167v1M146.5 169v1M146.5 170v1M146.5 172v1M146.5 174v1M146.5 177v1M146.5 179v1M146.5 181v1M146.5 183v1M146.5 185v1M146.5 187v1M146.5 188v1M146.5 190v1M146.5 192v1M146.5 193v1M146.5 195v1M146.5 197v1M146.5 199v1" stroke="#0000ff" stroke-width="1" fill="none" shape-rendering="crispEdges"/>
<path d="M146.5 200V220" stroke="#0000ff" stroke-width="1" shape-rendering="crispEdges"/>
<path d="M147.5 190v1M147.5 191v1M147.5 192v1M147.5 194v1M147.5 195v1M147.5 196v1M147.5 198v1M147.5 199v1M147.5 200v1M147.5 201v1M147.5 203v1M147.5 204v1M147.5 205v1M147.5 207v1M147.5 208v1M147.5 209v1M147.5 211v1M147.5 212v1M147.5 213v1M147.5 214v1M147.5 216v1M147.5 217v1M147.5 218v1M147.5 219v1" stroke="#0000ff" stroke-width="1" fill="none" shape-rendering="crispEdges"/>
<path d="M152.5 199v1M152.5 200v1M152.5 202v1M152.5 203v1M152.5 204v1M152.5 205v1M152.5 207v1M152.5 208v1M152.5 209v1M152.5 210v1M152.5 211v1" stroke="#ffd700" stroke-width="1" fill="none" shape-rendering="crispEdges"/>
<path d="M152.5 212V220" stroke="#ffd700" stroke-width="1" shape-rendering="crispEdges"/>
<path d="M151.5 210v1M151.5 211v1M151.5 212v1M151.5 213v1M151.5 215v1M151.5 216v1M151.5 217v1M151.5 218v1M151.5 219v1" stroke="#ffd700" stroke-width="1" fill="none" shape-rendering="crispEdges"/>
<path d="M153.5 212v1M153.5 213v1M153.5 214v1M153.5 215v1M153.5 216v1M153.5 218v1M153.5 219v1" stroke="#ffd700" stroke-width="1" fill="none" shape-rendering="crispEdges"/>
<path d="M231.5 192.5V219" stroke="#ffc890" stroke-width="0.7" stroke-opacity="0.9"/>
<path d="M40.6 138.5V224" stroke="#aaa" stroke-width="0.7"/>
<path d="M40.6 216.3H340.6" stroke="#888" stroke-width="0.8"/>
<path d="M40.6 223.3H340.6" stroke="#ccc" stroke-width="0.8"/>
<text x="38.8" y="151.2" font-size="5" text-anchor="end" fill="#333" letter-spacing="0.3">4000</text>
<text x="38.8" y="168.9" font-size="5" text-anchor="end" fill="#333" letter-spacing="0.3">3000</text>
<text x="38.8" y="186.6" font-size="5" text-anchor="end" fill="#333" letter-spacing="0.3">2000</text>
<text x="38.8" y="204.3" font-size="5" text-anchor="end" fill="#333" letter-spacing="0.3">1000</text>
<text x="38.8" y="222" font-size="5" text-anchor="end" fill="#333" letter-spacing="0.3">0</text>
<text x="50.1" y="229.3" font-size="5" text-anchor="middle" fill="#333" >1</text>
<text x="83.6" y="229.3" font-size="5" text-anchor="middle" fill="#333" >3</text>
<text x="113" y="229.3" font-size="5" text-anchor="middle" fill="#333" >5</text>
<text x="141.5" y="229.3" font-size="5" text-anchor="middle" fill="#333" >7</text>
<text x="167.5" y="229.3" font-size="5" text-anchor="middle" fill="#333" >9</text>
<text x="192.5" y="229.3" font-size="5" text-anchor="middle" fill="#333" >11</text>
<text x="213.5" y="229.3" font-size="5" text-anchor="middle" fill="#333" >13</text>
<text x="234.5" y="229.3" font-size="5" text-anchor="middle" fill="#333" >15</text>
<text x="253.5" y="229.3" font-size="5" text-anchor="middle" fill="#333" >17</text>
<text x="270.2" y="229.3" font-size="5" text-anchor="middle" fill="#333" >19</text>
<text x="286.8" y="229.3" font-size="5" text-anchor="middle" fill="#333" >21</text>
<text x="301.2" y="229.3" font-size="5" text-anchor="middle" fill="#333" >23</text>
<text x="314.5" y="229.3" font-size="5" text-anchor="middle" fill="#333" >25</text>
<text x="326.1" y="229.3" font-size="5" text-anchor="middle" fill="#333" >27</text>
<text x="337.7" y="229.3" font-size="5" text-anchor="middle" fill="#333" >29</text>
<text x="21.3" y="176.8" font-size="10" text-anchor="middle" fill="#111" transform="rotate(-90 21.3 176.8)" >CLR</text>
<path d="M42.5 335V264M42.5 265V262M42.5 263V262M42.5 253V251M42.5 264V263M43.5 336V292M43.5 291V288M44.5 335V296M44.5 289V287M44.5 297V296M44.5 278V277M45.5 337V276M45.5 277V275M45.5 270V268M45.5 275V274M45.5 266V265M46.5 335V267M46.5 256V255M46.5 265V262M46.5 261V259M46.5 263V262M46.5 264V263M47.5 338V291M47.5 291V289M47.5 293V290M47.5 291V290M47.5 287V284M47.5 291V290M48.5 337V298M48.5 291V289M48.5 295V292M48.5 298V296M48.5 296V293M48.5 264V263M49.5 337V287M49.5 285V282M49.5 275V272M49.5 282V281M49.5 267V266M50.5 334V295M50.5 290V288M50.5 292V289M50.5 281V280M51.5 335V269M51.5 264V263M51.5 266V264M51.5 263V262M51.5 268V267M51.5 266V265M52.5 336V293M52.5 285V284M53.5 335V291M53.5 287V286M53.5 291V290M53.5 287V286M53.5 283V282M54.5 336V290M54.5 285V284M55.5 336V292M55.5 292V290M55.5 289V287M55.5 286V285M55.5 291V290M56.5 336V267M56.5 266V265M56.5 264V263M56.5 259V258M56.5 267V265M56.5 263V262M56.5 265V264M57.5 337V292M57.5 290V287M57.5 282V281M58.5 337V289M58.5 287V286M58.5 287V286M58.5 287V286M58.5 285V284M58.5 287V286M59.5 339V294M59.5 291V289M59.5 293V292M59.5 291V290M59.5 273V272M60.5 334V289M60.5 276V275M60.5 277V276M60.5 270V269" stroke="#800080" stroke-width="1" fill="none" shape-rendering="crispEdges"/>
<path d="M42.5 271v1M43.5 307v1M44.5 306v1M45.5 280v1M46.5 270v1M50.5 301v1M50.5 297v1M54.5 293v1M55.5 304v1M56.5 275v1M57.5 302v1M58.5 300v1M59.5 299v1" stroke="#ffffff" stroke-width="1" fill="none" shape-rendering="crispEdges" stroke-opacity="0.75"/>
<path d="M61.5 334V297M61.5 292V290M61.5 284V282M61.5 288V287M62.5 334V297M62.5 288V285M62.5 294V293M62.5 290V288M62.5 296V295M63.5 335V292M63.5 279V278M63.5 292V290M63.5 291V289M64.5 339V289M64.5 283V282M64.5 281V279M64.5 279V277M64.5 278V277M64.5 282V281M65.5 334V288M65.5 288V287M65.5 282V281M66.5 338V281M66.5 276V275M66.5 280V279M67.5 336V292M67.5 282V281M68.5 338V297M68.5 285V283M69.5 338V300M69.5 299V297M69.5 294V293M69.5 285V284M70.5 335V297M70.5 291V289M70.5 294V291M70.5 294V292M70.5 295V293M70.5 294V293M71.5 335V302M71.5 288V287M72.5 335V302M72.5 295V294M72.5 292V291M72.5 299V297M72.5 293V292M73.5 335V304M73.5 304V303M74.5 335V296M74.5 297V296M74.5 296V293M74.5 294V293M75.5 334V302M75.5 300V298M75.5 289V288M75.5 297V296M76.5 334V313M76.5 312V311M76.5 302V301M76.5 304V302M76.5 314V311M76.5 300V299" stroke="#0000ff" stroke-width="1" fill="none" shape-rendering="crispEdges"/>
<path d="M61.5 303v1M63.5 301v1M64.5 300v1M67.5 304v1M68.5 307v1M68.5 308v1M69.5 310v1M70.5 300v1M70.5 310v1M72.5 306v1M72.5 315v1M73.5 314v1M73.5 310v1M74.5 302v1M75.5 303v1M76.5 327v1" stroke="#ffffff" stroke-width="1" fill="none" shape-rendering="crispEdges" stroke-opacity="0.75"/>
<path d="M77.5 342V296M77.5 294V292M77.5 296V295M77.5 280V279M77.5 295V294M78.5 335V301M78.5 301V300M78.5 302V301M78.5 281V280M78.5 280V279M79.5 337V296M79.5 293V292M79.5 295V294M80.5 339V299M80.5 293V291M80.5 293V292M80.5 294V293M81.5 335V291M81.5 287V284M81.5 288V286M81.5 286V284M81.5 284V283M81.5 281V280M82.5 335V286M82.5 285V283M82.5 269V268M82.5 272V271M83.5 337V283M83.5 279V276M83.5 280V278M83.5 280V279M83.5 273V272M83.5 271V270M84.5 334V294M84.5 292V291M84.5 292V290M84.5 290V288M84.5 294V293M84.5 290V289M85.5 344V297M85.5 294V293M85.5 289V288M85.5 292V291M85.5 295V294M85.5 270V269M86.5 336V288M86.5 288V286M86.5 287V285M86.5 287V285M86.5 286V285M86.5 283V282M87.5 337V298M87.5 295V294M87.5 294V292M87.5 290V288M88.5 334V284M88.5 284V281M88.5 285V282M88.5 274V273M88.5 279V278M89.5 336V298M89.5 285V282M89.5 294V292M89.5 297V294M89.5 271V270M90.5 334V297M90.5 298V295M90.5 289V288M90.5 288V287M91.5 337V288M91.5 288V287M91.5 287V284M91.5 288V287M91.5 283V282M91.5 280V279M91.5 270V269" stroke="#ffd700" stroke-width="1" fill="none" shape-rendering="crispEdges"/>
<path d="M77.5 306v1M79.5 308v1M81.5 306v1M81.5 297v1M83.5 292v1M84.5 307v1M84.5 300v1M86.5 299v1M86.5 295v1M87.5 299v1M88.5 293v1M89.5 312v1M91.5 297v1" stroke="#ffffff" stroke-width="1" fill="none" shape-rendering="crispEdges" stroke-opacity="0.75"/>
<path d="M92.5 334V303M92.5 299V298M93.5 337V301M93.5 293V290M93.5 292V291M93.5 288V287M93.5 291V290M93.5 297V296M94.5 334V294M94.5 291V288M94.5 289V287M94.5 293V290M94.5 283V282M94.5 292V291M95.5 336V291M95.5 290V288M95.5 290V289M95.5 291V290M96.5 335V298M96.5 297V296M96.5 292V289M96.5 297V294M96.5 298V297M97.5 340V299M97.5 299V298M97.5 296V294M97.5 291V290M98.5 337V302M98.5 300V298M98.5 289V288M98.5 300V299M99.5 334V301M99.5 292V290M99.5 296V295M99.5 283V282M100.5 334V282M100.5 281V279M100.5 281V280M100.5 281V280M100.5 282V281M101.5 339V283M101.5 280V279M101.5 277V274M101.5 272V271M101.5 282V281M102.5 335V300M102.5 297V295M102.5 300V299M103.5 334V297M103.5 290V289M103.5 297V295M103.5 290V287M104.5 338V305M104.5 302V301M104.5 293V292M104.5 299V298M105.5 336V302M105.5 301V299M105.5 302V301M105.5 303V300M105.5 301V300M105.5 294V293" stroke="#a9a9a9" stroke-width="1" fill="none" shape-rendering="crispEdges"/>
<path d="M92.5 305v1M92.5 314v1M94.5 297v1M96.5 305v1M97.5 302v1M99.5 310v1M100.5 285v1M100.5 295v1M101.5 292v1M102.5 304v1M104.5 316v1M105.5 311v1" stroke="#ffffff" stroke-width="1" fill="none" shape-rendering="crispEdges" stroke-opacity="0.75"/>
<path d="M106.5 335V302M106.5 291V290M106.5 292V291M107.5 334V303M107.5 303V302M107.5 303V301M108.5 336V279M108.5 271V270M108.5 274V273M109.5 337V284M109.5 285V282M109.5 277V276M110.5 335V302M110.5 302V301M110.5 297V296M111.5 340V305M111.5 297V294M112.5 337V302M112.5 294V292M112.5 291V288M112.5 293V292M112.5 294V293M112.5 286V285M113.5 338V300M113.5 294V293M113.5 300V297M113.5 298V295M114.5 334V296M114.5 296V294M114.5 280V279M114.5 297V296M115.5 336V297M115.5 296V295M115.5 298V295M115.5 285V284M115.5 293V292M116.5 335V300M116.5 300V299M116.5 299V298M116.5 296V295M116.5 275V274M117.5 335V306M117.5 303V302M117.5 297V296M117.5 304V303M118.5 335V291M118.5 292V290M118.5 286V285M118.5 289V287M118.5 289V287M118.5 288V287M119.5 340V290M119.5 287V284M119.5 279V278M120.5 339V305M120.5 305V304M120.5 292V291M120.5 299V297M120.5 299V298" stroke="#ffe3c4" stroke-width="1" fill="none" shape-rendering="crispEdges"/>
<path d="M107.5 309v1M107.5 311v1M109.5 287v1M110.5 304v1M110.5 311v1M111.5 314v1M112.5 313v1M113.5 311v1M113.5 307v1M114.5 306v1M114.5 311v1M116.5 304v1M117.5 308v1M118.5 306v1M118.5 304v1M119.5 301v1" stroke="#ffffff" stroke-width="1" fill="none" shape-rendering="crispEdges" stroke-opacity="0.75"/>
<path d="M121.5 337V300M121.5 297V295M121.5 295V293M121.5 299V296M121.5 292V290M121.5 297V296M122.5 336V283M122.5 277V275M122.5 270V269M122.5 283V280M122.5 283V281M122.5 280V279M122.5 277V276M123.5 335V297M123.5 295V292M123.5 293V291M123.5 298V296M123.5 291V288M123.5 280V279M123.5 293V292M124.5 337V293M124.5 294V292M124.5 283V282M125.5 337V292M125.5 283V282M125.5 279V278M125.5 287V286M125.5 286V283M125.5 286V285M126.5 336V277M126.5 278V276M126.5 273V270M126.5 277V276M126.5 275V274M127.5 336V293M127.5 291V289M127.5 283V280M127.5 292V291M128.5 334V285M128.5 285V283M128.5 280V279M128.5 286V285M129.5 334V274M129.5 273V272M129.5 260V259M129.5 275V272M129.5 274V273M129.5 273V272M130.5 334V297M130.5 289V288M130.5 296V295M130.5 298V296M130.5 291V290M130.5 274V273M131.5 336V298M131.5 293V292M131.5 291V289M131.5 297V296M132.5 338V297M132.5 295V293M132.5 297V296M133.5 336V294M133.5 288V287M133.5 282V281M133.5 294V293M133.5 295V294M133.5 276V275M134.5 335V304M134.5 304V303M134.5 294V293" stroke="#800080" stroke-width="1" fill="none" shape-rendering="crispEdges"/>
<path d="M122.5 290v1M123.5 308v1M124.5 298v1M125.5 304v1M125.5 298v1M126.5 281v1M126.5 288v1M127.5 303v1M127.5 298v1M129.5 288v1M130.5 308v1M131.5 307v1M131.5 305v1M133.5 303v1" stroke="#ffffff" stroke-width="1" fill="none" shape-rendering="crispEdges" stroke-opacity="0.75"/>
<path d="M135.5 335V302M135.5 300V299M135.5 291V289M135.5 300V299M135.5 294V292M135.5 299V298M135.5 298V297M136.5 334V302M136.5 296V293M136.5 302V299M136.5 301V300M136.5 303V300M137.5 334V301M137.5 291V290M137.5 293V291M137.5 290V289M137.5 284V283M138.5 334V294M138.5 293V290M138.5 288V287M138.5 292V291M138.5 281V280M139.5 338V298M139.5 298V297M139.5 291V290M139.5 299V298M139.5 294V293M139.5 297V296M140.5 334V297M140.5 285V282M140.5 297V296M141.5 334V272M141.5 268V266M141.5 273V270M142.5 337V297M142.5 292V290M142.5 289V288M142.5 298V297M143.5 337V297M143.5 292V291M143.5 293V292M143.5 281V280M144.5 337V296M144.5 295V293M144.5 296V294M144.5 289V288M145.5 334V285M145.5 273V272M145.5 273V272M145.5 274V273M145.5 280V279M145.5 273V272M146.5 337V299M146.5 300V297M146.5 300V297M146.5 299V296M146.5 294V293M147.5 335V305M147.5 306V305M147.5 295V294M147.5 302V301" stroke="#0000ff" stroke-width="1" fill="none" shape-rendering="crispEdges"/>
<path d="M137.5 302v1M138.5 305v1M139.5 310v1M140.5 298v1M140.5 309v1M142.5 298v1M145.5 298v1M145.5 287v1M146.5 300v1M147.5 312v1" stroke="#ffffff" stroke-width="1" fill="none" shape-rendering="crispEdges" stroke-opacity="0.75"/>
<path d="M148.5 335V304M148.5 301V300M148.5 292V289M149.5 336V299M149.5 286V285M149.5 284V283M149.5 297V296M150.5 337V293M150.5 289V288M150.5 288V287M150.5 288V286M151.5 337V296M151.5 292V290M151.5 285V282M151.5 295V294M151.5 296V293M151.5 280V279M151.5 294V293M152.5 335V295M152.5 286V285M152.5 295V294M152.5 288V286M152.5 294V293M152.5 294V293M153.5 337V284M153.5 275V274M153.5 282V281M153.5 284V283M154.5 338V292M154.5 292V290M154.5 290V289M155.5 334V280M155.5 274V272M155.5 281V278M155.5 272V271M156.5 335V290M156.5 291V288M156.5 288V285M156.5 290V289M156.5 287V286M156.5 284V283M157.5 335V293M157.5 293V292M157.5 278V277M157.5 283V282M158.5 334V298M158.5 299V296M158.5 298V295M158.5 297V296M159.5 337V279M159.5 279V278M159.5 275V274M159.5 275V274M159.5 273V272M160.5 337V280M160.5 275V274M160.5 274V273M160.5 276V275M160.5 279V278M160.5 280V279M161.5 334V298M161.5 299V296M161.5 298V295M161.5 287V286" stroke="#ffd700" stroke-width="1" fill="none" shape-rendering="crispEdges"/>
<path d="M148.5 308v1M149.5 311v1M153.5 286v1M154.5 305v1M157.5 295v1M157.5 307v1M158.5 307v1M158.5 300v1M159.5 290v1M160.5 294v1M160.5 292v1M161.5 308v1M161.5 302v1" stroke="#ffffff" stroke-width="1" fill="none" shape-rendering="crispEdges" stroke-opacity="0.75"/>
<path d="M162.5 334V317M162.5 316V314M162.5 317V316M162.5 315V314M162.5 313V312M162.5 283V282M163.5 335V287M163.5 286V285M163.5 284V282M163.5 273V272M163.5 275V274M163.5 275V274M164.5 337V303M164.5 292V291M164.5 294V292M164.5 290V287M165.5 336V313M165.5 311V310M165.5 300V299M166.5 335V303M166.5 292V291M166.5 301V299M166.5 299V298M166.5 287V286M167.5 337V310M167.5 310V308M167.5 302V301M167.5 308V306M167.5 305V304M167.5 275V274M167.5 283V282M168.5 339V275M168.5 270V268M168.5 274V271M168.5 268V267M168.5 274V273M169.5 336V309M169.5 306V304M169.5 306V304M169.5 309V306M169.5 309V306M170.5 334V295M170.5 290V289M170.5 294V292M170.5 294V293M171.5 336V316M171.5 306V303M171.5 310V308M172.5 334V310M172.5 310V308M172.5 299V298" stroke="#a9a9a9" stroke-width="1" fill="none" shape-rendering="crispEdges"/>
<path d="M165.5 326v1M165.5 325v1M166.5 309v1M166.5 311v1M167.5 325v1M168.5 278v1M169.5 316v1" stroke="#ffffff" stroke-width="1" fill="none" shape-rendering="crispEdges" stroke-opacity="0.75"/>
<path d="M173.5 335V283M173.5 283V280M173.5 277V275M173.5 282V281M173.5 284V283M174.5 335V302M174.5 301V298M174.5 302V301M174.5 296V293M174.5 298V297M174.5 302V301M175.5 339V302M175.5 294V293M175.5 298V295M175.5 298V297M175.5 302V301M176.5 340V304M176.5 301V300M176.5 301V298M176.5 284V283M177.5 336V301M177.5 293V291M177.5 299V297M177.5 302V300M178.5 336V301M178.5 302V300M178.5 301V299M178.5 297V294M178.5 298V297M179.5 334V308M179.5 306V303M179.5 295V292M179.5 296V295M180.5 339V296M180.5 297V296M180.5 295V294M180.5 291V290M181.5 338V291M181.5 288V287M181.5 291V288M181.5 290V289M182.5 335V297M182.5 298V295M182.5 295V294M182.5 296V295M183.5 335V305M183.5 306V304M183.5 298V297M183.5 305V302M183.5 297V296M183.5 300V299M184.5 334V311M184.5 312V310M184.5 307V306M184.5 298V296M184.5 287V286" stroke="#ffe3c4" stroke-width="1" fill="none" shape-rendering="crispEdges"/>
<path d="M174.5 314v1M175.5 306v1M175.5 306v1M176.5 319v1M177.5 303v1M179.5 317v1M181.5 303v1M181.5 298v1M182.5 309v1M183.5 316v1M184.5 326v1" stroke="#ffffff" stroke-width="1" fill="none" shape-rendering="crispEdges" stroke-opacity="0.75"/>
<path d="M185.5 335V294M185.5 296V293M185.5 288V287M186.5 334V290M186.5 290V288M186.5 285V284M186.5 288V287M186.5 275V274M187.5 335V294M187.5 282V279M187.5 287V286M187.5 289V287M187.5 293V292M188.5 336V286M188.5 280V279M188.5 278V275M188.5 286V283M188.5 273V271M188.5 284V283M188.5 283V282M189.5 336V289M189.5 288V285M190.5 337V287M190.5 282V281M190.5 280V279M190.5 282V281M191.5 335V283M191.5 276V275M191.5 284V281M191.5 281V280M192.5 334V284M192.5 281V280M192.5 279V278M192.5 273V272M192.5 279V278M193.5 337V291M193.5 292V291M193.5 291V290M193.5 280V279M193.5 274V273M193.5 283V282M194.5 335V287M194.5 287V286M194.5 285V282M194.5 288V287M194.5 274V273M195.5 335V286M195.5 273V272M195.5 280V279M195.5 275V274M196.5 338V291M196.5 292V289M196.5 290V289M196.5 278V276M196.5 289V288M196.5 289V288M197.5 337V294M197.5 291V290M197.5 286V285M197.5 287V286" stroke="#800080" stroke-width="1" fill="none" shape-rendering="crispEdges"/>
<path d="M185.5 306v1M186.5 303v1M187.5 308v1M188.5 298v1M189.5 293v1M190.5 294v1M192.5 288v1M193.5 295v1M194.5 299v1M195.5 300v1M195.5 288v1M196.5 297v1M196.5 298v1M197.5 301v1M197.5 299v1" stroke="#ffffff" stroke-width="1" fill="none" shape-rendering="crispEdges" stroke-opacity="0.75"/>
<path d="M198.5 336V290M198.5 291V288M198.5 277V274M199.5 335V290M199.5 281V280M199.5 291V288M199.5 289V286M199.5 277V275M199.5 280V279M200.5 335V281M200.5 278V277M200.5 280V279M200.5 279V276M200.5 279V278M201.5 335V289M201.5 288V287M201.5 288V286M201.5 286V283M201.5 290V288M201.5 279V278M201.5 280V279M202.5 337V287M202.5 287V285M202.5 273V272M203.5 335V289M203.5 289V288M203.5 290V287M203.5 288V287M204.5 342V288M204.5 279V278M204.5 283V280M204.5 286V285M204.5 284V282M205.5 337V285M205.5 282V281M205.5 283V282M206.5 337V288M206.5 287V284M206.5 287V286M206.5 274V273M206.5 287V286M206.5 277V276M207.5 337V296M207.5 293V292M207.5 280V279M208.5 336V288M208.5 285V284M208.5 282V281" stroke="#0000ff" stroke-width="1" fill="none" shape-rendering="crispEdges"/>
<path d="M198.5 301v1M200.5 295v1M201.5 291v1M202.5 302v1M205.5 295v1M207.5 309v1M208.5 297v1" stroke="#ffffff" stroke-width="1" fill="none" shape-rendering="crispEdges" stroke-opacity="0.75"/>
<path d="M209.5 338V285M209.5 285V282M209.5 284V283M210.5 337V287M210.5 273V272M210.5 284V283M210.5 287V286M210.5 284V282M210.5 277V276M210.5 287V286M211.5 335V280M211.5 281V278M211.5 275V274M211.5 281V279M211.5 280V279M212.5 338V280M212.5 273V271M212.5 278V276M212.5 279V276M212.5 266V265M212.5 273V272M213.5 340V279M213.5 270V268M213.5 271V270M213.5 276V275M213.5 279V278M213.5 276V275M214.5 338V273M214.5 269V267M214.5 273V272M215.5 334V277M215.5 264V263M215.5 274V271M215.5 278V275M215.5 272V271M215.5 273V272M216.5 341V289M216.5 287V286M216.5 278V275M216.5 286V284M216.5 288V287M217.5 337V273M217.5 270V268M217.5 260V257M217.5 273V272M218.5 339V292M218.5 289V287M218.5 289V288M218.5 289V288M218.5 290V289" stroke="#ffd700" stroke-width="1" fill="none" shape-rendering="crispEdges"/>
<path d="M209.5 291v1M210.5 289v1M211.5 285v1M212.5 281v1M213.5 292v1M213.5 281v1M214.5 281v1M215.5 282v1M215.5 285v1M216.5 300v1M216.5 298v1M218.5 297v1" stroke="#ffffff" stroke-width="1" fill="none" shape-rendering="crispEdges" stroke-opacity="0.75"/>
<path d="M219.5 334V301M219.5 300V299M219.5 278V277M220.5 335V304M220.5 305V303M220.5 303V302M220.5 301V299M220.5 293V292M221.5 336V290M221.5 286V283M221.5 288V287M221.5 291V288M222.5 334V296M222.5 293V290M222.5 296V294M222.5 293V291M222.5 284V282M222.5 281V280M223.5 334V283M223.5 280V277M223.5 274V273M223.5 283V282M224.5 334V292M224.5 291V290M224.5 284V281M224.5 290V287M225.5 340V294M225.5 290V289M225.5 293V292M226.5 337V297M226.5 295V292M226.5 276V275M227.5 336V291M227.5 288V285M227.5 291V290M228.5 336V294M228.5 293V292M228.5 293V290M228.5 295V292M228.5 294V293M228.5 293V292M228.5 284V283M229.5 334V302M229.5 301V298M229.5 302V301M229.5 302V301M229.5 289V288M229.5 286V285M229.5 287V286" stroke="#a9a9a9" stroke-width="1" fill="none" shape-rendering="crispEdges"/>
<path d="M219.5 315v1M220.5 319v1M221.5 298v1M222.5 299v1M224.5 306v1M226.5 302v1M227.5 299v1M228.5 309v1M229.5 305v1" stroke="#ffffff" stroke-width="1" fill="none" shape-rendering="crispEdges" stroke-opacity="0.75"/>
<path d="M230.5 338V307M230.5 307V306M230.5 305V304M230.5 303V302M230.5 302V301M231.5 334V299M231.5 298V296M231.5 297V295M231.5 299V296M231.5 297V296M231.5 298V297M232.5 334V281M232.5 281V280M232.5 271V270M232.5 276V275M233.5 338V298M233.5 296V295M233.5 295V293M233.5 292V291M234.5 334V296M234.5 297V295M234.5 296V293M234.5 288V287M235.5 336V299M235.5 292V289M235.5 284V283M236.5 336V298M236.5 291V288M236.5 294V292M236.5 284V283M237.5 335V296M237.5 288V287M237.5 295V292M237.5 296V295M237.5 295V294M237.5 294V293M238.5 338V302M238.5 301V300M238.5 297V295M238.5 302V301M239.5 338V307M239.5 304V303M239.5 297V294M239.5 304V302" stroke="#ffe3c4" stroke-width="1" fill="none" shape-rendering="crispEdges"/>
<path d="M231.5 312v1M231.5 309v1M232.5 294v1M233.5 307v1M234.5 307v1M235.5 311v1M236.5 307v1M237.5 297v1M237.5 299v1M238.5 308v1M239.5 313v1M239.5 313v1" stroke="#ffffff" stroke-width="1" fill="none" shape-rendering="crispEdges" stroke-opacity="0.75"/>
<path d="M240.5 334V295M240.5 294V293M240.5 294V293M240.5 293V292M241.5 340V293M241.5 293V291M241.5 280V278M242.5 334V293M242.5 292V291M242.5 291V289M242.5 289V288M243.5 339V300M243.5 297V294M243.5 300V299M243.5 287V284M243.5 286V285M243.5 293V292M244.5 334V282M244.5 282V280M244.5 279V278M244.5 283V280M244.5 283V281M244.5 283V282M245.5 339V294M245.5 286V284M245.5 290V288M245.5 294V293M245.5 293V292M246.5 338V293M246.5 292V290M246.5 293V290M246.5 293V291M246.5 285V284M247.5 335V296M247.5 293V292M247.5 292V291M247.5 284V283M248.5 336V293M248.5 287V286M248.5 293V291M248.5 286V285M249.5 334V294M249.5 292V291M249.5 286V285M249.5 294V293M249.5 290V289M249.5 284V283" stroke="#800080" stroke-width="1" fill="none" shape-rendering="crispEdges"/>
<path d="M240.5 297v1M241.5 295v1M242.5 301v1M242.5 295v1M243.5 311v1M244.5 288v1M244.5 288v1M246.5 297v1M246.5 307v1M247.5 307v1M248.5 303v1" stroke="#ffffff" stroke-width="1" fill="none" shape-rendering="crispEdges" stroke-opacity="0.75"/>
<path d="M250.5 334V288M250.5 289V286M250.5 285V284M250.5 288V286M250.5 284V283M250.5 287V286M251.5 337V289M251.5 277V276M251.5 281V278M251.5 286V284M252.5 334V299M252.5 295V294M252.5 299V296M252.5 299V296M252.5 291V290M252.5 297V296M253.5 334V299M253.5 297V295M253.5 296V295M253.5 295V293M253.5 298V297M253.5 295V294M254.5 336V298M254.5 294V293M254.5 297V296M254.5 296V295M255.5 336V305M255.5 298V296M255.5 304V303M255.5 302V301M255.5 300V299M255.5 292V291M256.5 335V301M256.5 300V299M256.5 301V300M256.5 298V297M256.5 301V298M256.5 298V297M256.5 300V299M257.5 335V297M257.5 297V296M257.5 297V296M257.5 287V286" stroke="#0000ff" stroke-width="1" fill="none" shape-rendering="crispEdges"/>
<path d="M252.5 302v1M253.5 302v1M253.5 311v1M256.5 304v1" stroke="#ffffff" stroke-width="1" fill="none" shape-rendering="crispEdges" stroke-opacity="0.75"/>
<path d="M258.5 334V309M258.5 295V294M258.5 305V303M259.5 334V298M259.5 290V289M259.5 296V295M260.5 337V289M260.5 288V285M260.5 289V288M261.5 336V302M261.5 301V300M261.5 302V299M261.5 293V292M261.5 295V294M262.5 336V286M262.5 286V283M262.5 276V273M262.5 286V285M262.5 284V281M262.5 286V285M263.5 340V297M263.5 289V286M263.5 289V287M263.5 290V289M263.5 289V288M264.5 335V294M264.5 291V290M264.5 293V292M264.5 295V294M264.5 295V294M265.5 334V302M265.5 289V287M266.5 336V304M266.5 301V299M266.5 286V285M266.5 299V298" stroke="#ffd700" stroke-width="1" fill="none" shape-rendering="crispEdges"/>
<path d="M258.5 321v1M258.5 323v1M261.5 307v1M263.5 300v1M264.5 300v1M265.5 313v1M266.5 318v1M266.5 310v1" stroke="#ffffff" stroke-width="1" fill="none" shape-rendering="crispEdges" stroke-opacity="0.75"/>
<path d="M267.5 334V291M267.5 282V281M267.5 287V285M267.5 281V280M267.5 285V284M268.5 334V292M268.5 292V291M268.5 290V289M268.5 281V280M268.5 278V277M269.5 335V296M269.5 289V287M269.5 279V278M270.5 334V293M270.5 293V290M270.5 290V289M270.5 290V289M271.5 336V296M271.5 292V291M271.5 296V295M271.5 292V291M271.5 282V281M272.5 334V294M272.5 290V289M272.5 295V292M272.5 293V291M273.5 334V302M273.5 298V297M273.5 290V287M273.5 301V300M273.5 273V272" stroke="#a9a9a9" stroke-width="1" fill="none" shape-rendering="crispEdges"/>
<path d="M267.5 297v1M268.5 303v1M268.5 294v1M271.5 300v1M272.5 303v1M273.5 315v1" stroke="#ffffff" stroke-width="1" fill="none" shape-rendering="crispEdges" stroke-opacity="0.75"/>
<path d="M274.5 338V300M274.5 298V297M274.5 294V293M274.5 290V289M275.5 336V292M275.5 291V288M275.5 291V289M275.5 290V287M275.5 288V287M275.5 283V282M275.5 283V282M276.5 334V297M276.5 289V287M276.5 288V285M276.5 294V293M276.5 290V289M277.5 334V296M277.5 293V292M277.5 293V292M277.5 283V282M278.5 335V296M278.5 294V293M278.5 295V292M279.5 334V304M279.5 301V300M279.5 304V302M279.5 304V303M279.5 303V302M280.5 337V300M280.5 292V291M280.5 290V287M280.5 296V295M281.5 337V296M281.5 285V283M281.5 293V291M281.5 297V295M281.5 293V292M281.5 294V293M282.5 334V301M282.5 289V288M282.5 293V292M282.5 294V293M282.5 300V299" stroke="#ffe3c4" stroke-width="1" fill="none" shape-rendering="crispEdges"/>
<path d="M275.5 306v1M276.5 310v1M277.5 311v1M280.5 304v1M281.5 307v1M282.5 311v1M282.5 304v1" stroke="#ffffff" stroke-width="1" fill="none" shape-rendering="crispEdges" stroke-opacity="0.75"/>
<path d="M283.5 337V292M283.5 292V291M284.5 334V289M284.5 283V280M284.5 288V286M284.5 287V286M284.5 289V288M285.5 339V292M285.5 278V277M285.5 292V291M285.5 284V281M285.5 283V282M285.5 285V284M286.5 336V286M286.5 286V285M286.5 284V283M286.5 284V281M286.5 278V277M287.5 338V296M287.5 291V290M287.5 288V287M287.5 296V293M287.5 296V295M287.5 289V288M288.5 338V294M288.5 291V290M288.5 292V291M288.5 284V283M289.5 334V291M289.5 284V283M290.5 334V293M290.5 288V287M290.5 279V278M290.5 293V290M290.5 292V291" stroke="#800080" stroke-width="1" fill="none" shape-rendering="crispEdges"/>
<path d="M283.5 294v1M283.5 305v1M285.5 301v1M285.5 293v1M286.5 299v1M286.5 301v1M289.5 303v1M290.5 296v1M290.5 301v1" stroke="#ffffff" stroke-width="1" fill="none" shape-rendering="crispEdges" stroke-opacity="0.75"/>
<path d="M291.5 334V311M291.5 311V310M291.5 310V309M291.5 309V308M291.5 309V308M291.5 305V304M292.5 335V293M292.5 284V283M292.5 292V291M292.5 285V284M292.5 281V280M292.5 293V292M293.5 337V299M293.5 288V286M293.5 295V292M293.5 292V291M294.5 336V294M294.5 289V288M294.5 289V288M294.5 292V291M295.5 335V306M295.5 299V298M295.5 304V303M295.5 305V304M295.5 306V305M296.5 334V303M296.5 295V292M296.5 303V302M296.5 300V299M297.5 334V305M297.5 295V294M297.5 304V302M297.5 295V294" stroke="#0000ff" stroke-width="1" fill="none" shape-rendering="crispEdges"/>
<path d="M291.5 319v1M292.5 304v1M293.5 304v1M293.5 304v1M296.5 308v1M297.5 312v1" stroke="#ffffff" stroke-width="1" fill="none" shape-rendering="crispEdges" stroke-opacity="0.75"/>
<path d="M298.5 335V300M298.5 298V297M298.5 287V284M298.5 301V298M298.5 298V297M298.5 298V297M299.5 335V293M299.5 285V283M299.5 291V290M299.5 290V289M299.5 281V280M299.5 292V291M300.5 338V296M300.5 292V291M300.5 296V294M300.5 292V291M300.5 294V293M300.5 289V288M301.5 339V292M301.5 292V291M301.5 291V290M302.5 336V300M302.5 300V299M302.5 297V294M302.5 293V292M302.5 294V293M303.5 340V300M303.5 300V297M303.5 294V293M303.5 286V285M303.5 295V294M304.5 335V300M304.5 297V296M304.5 294V293M304.5 295V294M304.5 299V297M304.5 301V300" stroke="#ffd700" stroke-width="1" fill="none" shape-rendering="crispEdges"/>
<path d="M299.5 298v1M300.5 302v1M300.5 309v1M301.5 298v1M301.5 302v1M302.5 304v1M303.5 305v1M304.5 311v1" stroke="#ffffff" stroke-width="1" fill="none" shape-rendering="crispEdges" stroke-opacity="0.75"/>
<path d="M305.5 334V302M305.5 300V299M305.5 302V299M305.5 302V299M305.5 287V286M306.5 340V300M306.5 297V296M306.5 298V295M306.5 300V298M307.5 336V302M307.5 299V298M307.5 302V300M307.5 300V297M307.5 286V285M308.5 334V296M308.5 294V291M308.5 289V288M308.5 293V292M308.5 285V284M308.5 294V293M309.5 336V290M309.5 290V287M309.5 286V285M309.5 288V287M310.5 337V296M310.5 294V293M311.5 334V300M311.5 294V292M311.5 299V298M311.5 299V298M311.5 286V285" stroke="#a9a9a9" stroke-width="1" fill="none" shape-rendering="crispEdges"/>
<path d="M305.5 311v1M307.5 305v1M307.5 316v1M308.5 308v1M308.5 307v1M310.5 301v1M311.5 305v1M311.5 306v1" stroke="#ffffff" stroke-width="1" fill="none" shape-rendering="crispEdges" stroke-opacity="0.75"/>
<path d="M312.5 335V316M312.5 316V314M312.5 316V314M312.5 314V313M312.5 313V312M312.5 306V305M313.5 334V305M313.5 302V299M313.5 302V301M313.5 305V303M314.5 337V306M314.5 306V303M314.5 304V303M314.5 306V305M314.5 305V302M314.5 307V306M315.5 338V305M315.5 302V301M315.5 305V304M315.5 304V303M316.5 335V313M316.5 314V311M316.5 302V301M316.5 312V311M316.5 301V300M316.5 301V300" stroke="#ffe3c4" stroke-width="1" fill="none" shape-rendering="crispEdges"/>
<path d="M312.5 324v1M312.5 322v1M313.5 319v1M314.5 308v1M315.5 312v1" stroke="#ffffff" stroke-width="1" fill="none" shape-rendering="crispEdges" stroke-opacity="0.75"/>
<path d="M317.5 334V305M317.5 304V303M317.5 303V302M317.5 305V302M317.5 298V297M317.5 290V289M318.5 334V301M318.5 296V293M318.5 300V299M318.5 287V286M319.5 336V301M319.5 290V287M319.5 289V287M319.5 298V296M319.5 295V294M320.5 336V297M320.5 294V292M320.5 283V282M320.5 294V293M320.5 297V296M321.5 337V296M321.5 292V289M321.5 289V288M321.5 297V294M321.5 289V288M321.5 295V294M321.5 296V295M322.5 335V298M322.5 284V283M322.5 298V297M322.5 296V295" stroke="#800080" stroke-width="1" fill="none" shape-rendering="crispEdges"/>
<path d="M317.5 318v1M318.5 302v1M319.5 312v1M322.5 301v1" stroke="#ffffff" stroke-width="1" fill="none" shape-rendering="crispEdges" stroke-opacity="0.75"/>
<path d="M323.5 338V294M323.5 288V286M323.5 288V287M323.5 283V282M324.5 335V293M324.5 288V285M325.5 334V287M325.5 275V274M325.5 282V281M325.5 278V277M325.5 281V280M326.5 336V287M326.5 283V282M326.5 285V283M326.5 285V284M326.5 287V286M326.5 275V274M327.5 337V290M327.5 285V284M327.5 279V278M327.5 281V280M327.5 289V286M327.5 284V283M327.5 287V286M328.5 337V296M328.5 283V280M328.5 290V289M328.5 280V279M328.5 286V285" stroke="#0000ff" stroke-width="1" fill="none" shape-rendering="crispEdges"/>
<path d="M323.5 306v1M323.5 298v1M326.5 295v1M326.5 290v1M327.5 293v1M328.5 298v1" stroke="#ffffff" stroke-width="1" fill="none" shape-rendering="crispEdges" stroke-opacity="0.75"/>
<path d="M329.5 335V297M329.5 294V291M329.5 294V293M330.5 335V296M330.5 295V294M331.5 335V291M331.5 291V289M331.5 288V287M331.5 289V288M332.5 334V293M332.5 290V287M332.5 293V292M332.5 292V291M333.5 337V301M333.5 294V292M333.5 301V299M333.5 297V294M333.5 288V287M333.5 279V278" stroke="#ffd700" stroke-width="1" fill="none" shape-rendering="crispEdges"/>
<path d="M329.5 299v1M330.5 303v1M331.5 298v1M332.5 300v1M333.5 316v1" stroke="#ffffff" stroke-width="1" fill="none" shape-rendering="crispEdges" stroke-opacity="0.75"/>
<path d="M334.5 339V305M334.5 306V303M334.5 305V303M334.5 305V304M334.5 288V287M335.5 335V297M335.5 291V290M336.5 338V294M336.5 294V291M336.5 281V279M336.5 292V290M336.5 293V292M336.5 279V278M336.5 287V286M337.5 338V296M337.5 295V293M337.5 292V291M337.5 283V282M338.5 338V295M338.5 295V294M338.5 292V291M338.5 295V292M338.5 283V282M339.5 338V277M339.5 278V276M339.5 269V268M339.5 271V270M340.5 337V300M340.5 296V295M340.5 298V297M340.5 284V283" stroke="#a9a9a9" stroke-width="1" fill="none" shape-rendering="crispEdges"/>
<path d="M334.5 314v1M336.5 305v1M337.5 302v1M337.5 300v1M338.5 309v1M338.5 303v1M339.5 287v1M339.5 286v1M340.5 313v1M340.5 314v1" stroke="#ffffff" stroke-width="1" fill="none" shape-rendering="crispEdges" stroke-opacity="0.75"/>
<path d="M42.699999999999996 259.5V343" stroke="#ccc" stroke-width="0.8"/>
<path d="M42.4 297.3H340.6" stroke="#555" stroke-width="0.8"/>
<text x="41" y="264.8" font-size="5" text-anchor="end" fill="#333" letter-spacing="0.3">0.8</text>
<text x="41" y="281.7" font-size="5" text-anchor="end" fill="#333" letter-spacing="0.3">0.6</text>
<text x="41" y="298.5" font-size="5" text-anchor="end" fill="#333" letter-spacing="0.3">0.4</text>
<text x="41" y="315.4" font-size="5" text-anchor="end" fill="#333" letter-spacing="0.3">0.2</text>
<text x="41" y="332.2" font-size="5" text-anchor="end" fill="#333" letter-spacing="0.3">0.0</text>
<text x="52.4" y="348.8" font-size="5" text-anchor="middle" fill="#333" >1</text>
<text x="85.6" y="348.8" font-size="5" text-anchor="middle" fill="#333" >3</text>
<text x="114.5" y="348.8" font-size="5" text-anchor="middle" fill="#333" >5</text>
<text x="142.5" y="348.8" font-size="5" text-anchor="middle" fill="#333" >7</text>
<text x="168.5" y="348.8" font-size="5" text-anchor="middle" fill="#333" >9</text>
<text x="192.5" y="348.8" font-size="5" text-anchor="middle" fill="#333" >11</text>
<text x="214.5" y="348.8" font-size="5" text-anchor="middle" fill="#333" >13</text>
<text x="235.5" y="348.8" font-size="5" text-anchor="middle" fill="#333" >15</text>
<text x="254.4" y="348.8" font-size="5" text-anchor="middle" fill="#333" >17</text>
<text x="270.4" y="348.8" font-size="5" text-anchor="middle" fill="#333" >19</text>
<text x="286.9" y="348.8" font-size="5" text-anchor="middle" fill="#333" >21</text>
<text x="301.8" y="348.8" font-size="5" text-anchor="middle" fill="#333" >23</text>
<text x="314.6" y="348.8" font-size="5" text-anchor="middle" fill="#333" >25</text>
<text x="326.3" y="348.8" font-size="5" text-anchor="middle" fill="#333" >27</text>
<text x="337.8" y="348.8" font-size="5" text-anchor="middle" fill="#333" >29</text>
<text x="26.2" y="299" font-size="9" text-anchor="middle" fill="#111" transform="rotate(-90 26.2 299)" >Fst</text>
<path d="M43.5 437V419M43.5 439V438M43.5 417V404M43.5 419V418M43.5 419V418M43.5 444V443M44.5 447V417M44.5 415V416M44.5 412V411M44.5 451V450M44.5 456V455M45.5 442V409M45.5 404V403M45.5 408V407M45.5 446V445M46.5 450V420M46.5 455V454M47.5 439V420M47.5 418V406M47.5 440V439M47.5 439V438M48.5 442V417M48.5 416V413M48.5 400V399M48.5 409V408M49.5 444V423M49.5 422V415M49.5 446V454M49.5 423V422M49.5 419V418M49.5 461V460M50.5 446V409M50.5 407V397M50.5 448V449M50.5 405V404M51.5 444V411M51.5 410V406M51.5 445V444M51.5 446V469M51.5 407V406M51.5 408V407M51.5 448V447M52.5 446V417M52.5 416V414M52.5 448V454M52.5 402V401M52.5 448V447M53.5 440V416M53.5 414V412M53.5 409V408M53.5 444V443M54.5 442V418M54.5 416V412M54.5 444V454M54.5 408V407M54.5 417V416M54.5 450V449M55.5 445V419M55.5 417V416M55.5 417V416M55.5 454V453M56.5 443V416M56.5 397V396M57.5 442V414M57.5 412V411M57.5 444V443M57.5 414V413M57.5 453V452M57.5 444V443M58.5 447V420M58.5 448V449M58.5 420V419M58.5 408V407M59.5 443V416M59.5 409V408M59.5 399V398M59.5 457V456M60.5 444V417M60.5 446V450" stroke="#800080" stroke-width="1" fill="none" shape-rendering="crispEdges"/>
<path d="M61.5 442V412M61.5 410V409M62.5 444V416M62.5 414V412M63.5 442V413M63.5 411V410M63.5 443V442M64.5 430V417M64.5 415V414M64.5 432V431M64.5 415V414M64.5 432V431M64.5 431V430M65.5 433V421M65.5 419V413M65.5 418V417M65.5 418V417M65.5 438V437M66.5 443V419M66.5 417V405M66.5 415V414M66.5 445V444M67.5 446V421M67.5 447V452M67.5 413V412M67.5 447V446M68.5 434V416M68.5 436V438M68.5 436V435M68.5 455V454M69.5 447V419M69.5 417V416M69.5 449V454M69.5 412V411M70.5 450V424M70.5 452V457M70.5 422V408M70.5 469V468M70.5 460V459M71.5 440V418M71.5 416V412M71.5 410V409M71.5 442V441M71.5 442V441M72.5 445V427M72.5 425V424M72.5 446V459M72.5 455V454M72.5 453V452M73.5 446V420M73.5 448V449M73.5 418V417M73.5 447V446M74.5 456V418M74.5 416V409M75.5 443V418M75.5 444V455M75.5 417V416M75.5 417V416M76.5 441V421M76.5 415V414M76.5 444V443" stroke="#0000ff" stroke-width="1" fill="none" shape-rendering="crispEdges"/>
<path d="M77.5 439V422M77.5 420V421M77.5 441V447M77.5 422V421M77.5 448V447M78.5 439V420M78.5 418V417M78.5 440V451M78.5 417V416M78.5 440V439M78.5 441V440M79.5 429V424M79.5 419V418M79.5 430V429M80.5 439V422M80.5 441V440M80.5 419V418M80.5 446V445M81.5 443V416M81.5 414V415M81.5 444V445M81.5 416V415M81.5 446V445M81.5 445V444M82.5 443V425M82.5 423V420M82.5 445V446M82.5 421V420M82.5 420V419M82.5 453V452M83.5 444V422M83.5 445V446M83.5 421V420M83.5 421V420M83.5 449V448M83.5 450V449M84.5 440V421M84.5 441V441M84.5 418V417M84.5 444V443M85.5 443V424M85.5 423V420M85.5 424V423M86.5 444V423M86.5 446V453M86.5 421V420M86.5 449V448M86.5 449V448M87.5 441V425M87.5 448V447M88.5 436V419M88.5 417V410M88.5 438V444M88.5 413V412M88.5 445V444M88.5 438V437M89.5 431V419M89.5 418V417M89.5 433V435M89.5 435V434M89.5 432V431M90.5 436V420M90.5 419V415M90.5 437V436M90.5 418V412M90.5 420V419M90.5 438V437M91.5 433V421M91.5 419V407M91.5 404V403M91.5 438V437M91.5 437V436" stroke="#ffd700" stroke-width="1" fill="none" shape-rendering="crispEdges"/>
<path d="M92.5 435V414M92.5 413V407M92.5 438V437M93.5 440V415M93.5 414V413M93.5 409V408M93.5 412V411M93.5 444V443M94.5 448V430M94.5 450V449M94.5 422V421M94.5 427V426M94.5 451V450M94.5 458V457M95.5 450V422M95.5 452V454M95.5 419V418M96.5 443V427M96.5 426V416M96.5 445V444M96.5 417V416M96.5 456V455M97.5 438V416M97.5 440V438M97.5 415V414M98.5 448V418M98.5 416V414M98.5 449V456M98.5 407V406M98.5 449V448M98.5 450V449M99.5 443V422M99.5 421V408M99.5 445V452M99.5 445V444M99.5 422V421M100.5 446V423M100.5 422V420M100.5 450V449M101.5 439V420M101.5 419V410M101.5 441V440M102.5 453V418M102.5 455V463M102.5 414V413M103.5 442V417M103.5 416V409M103.5 444V446M103.5 417V416M104.5 439V418M104.5 411V410M104.5 415V414M105.5 440V419M105.5 441V448M105.5 403V402M105.5 416V415M105.5 441V440" stroke="#a9a9a9" stroke-width="1" fill="none" shape-rendering="crispEdges"/>
<path d="M106.5 452V417M106.5 416V414M106.5 454V453M106.5 418V417M106.5 417V416M106.5 455V454M107.5 449V419M107.5 450V449M107.5 417V416M107.5 451V450M107.5 451V450M108.5 444V411M108.5 410V409M108.5 446V454M108.5 409V408M108.5 446V445M108.5 446V445M109.5 445V420M109.5 419V411M109.5 447V450M109.5 408V407M109.5 417V416M109.5 449V448M109.5 450V449M110.5 435V416M110.5 414V416M110.5 437V436M110.5 414V413M110.5 415V414M110.5 436V435M111.5 441V415M111.5 443V442M111.5 415V414M112.5 450V408M112.5 407V397M112.5 454V453M113.5 444V419M113.5 417V416M113.5 409V408M113.5 419V418M113.5 446V445M114.5 448V416M114.5 415V410M114.5 462V461M114.5 452V451M115.5 443V417M115.5 444V457M115.5 411V410M115.5 448V447M115.5 456V455M116.5 441V410M116.5 409V408M116.5 442V450M116.5 443V454M116.5 410V409M117.5 448V412M117.5 411V405M117.5 413V412M117.5 449V448M117.5 451V450M118.5 441V410M118.5 442V444M118.5 443V447M118.5 461V460M119.5 445V414M119.5 447V455M119.5 413V412M119.5 447V446M120.5 445V414M120.5 414V413M120.5 412V411M120.5 450V449" stroke="#ffe3c4" stroke-width="1" fill="none" shape-rendering="crispEdges"/>
<path d="M121.5 438V410M122.5 445V416M122.5 415V413M123.5 448V418M124.5 448V419M125.5 459V423M126.5 455V430M126.5 456V460M127.5 462V429M128.5 450V425M129.5 449V424M129.5 450V457M130.5 455V419M130.5 418V417M131.5 438V413M131.5 412V410M131.5 439V438M132.5 441V411M132.5 442V448M133.5 438V406M133.5 439V441M134.5 440V407M134.5 406V403M134.5 441V446" stroke="#800080" stroke-width="1" fill="none" shape-rendering="crispEdges"/>
<path d="M135.5 440V414M135.5 441V443M135.5 403V402M135.5 443V442M135.5 446V445M136.5 436V411M136.5 438V440M136.5 409V408M136.5 447V446M137.5 443V416M137.5 417V416M138.5 438V423M138.5 439V438M138.5 423V422M139.5 442V417M139.5 415V414M139.5 444V443M139.5 402V401M139.5 457V456M139.5 452V451M140.5 447V405M140.5 401V400M140.5 400V399M140.5 449V448M140.5 448V447M141.5 434V422M141.5 421V417M141.5 436V445M141.5 423V422M141.5 438V437M142.5 443V411M142.5 410V409M143.5 440V414M143.5 413V412M143.5 442V455M143.5 451V450M143.5 445V444M144.5 442V415M144.5 412V411M144.5 449V448M145.5 441V417M145.5 416V415M145.5 414V413M145.5 418V417M145.5 452V451M145.5 461V460M146.5 442V414M146.5 412V404M146.5 444V452M146.5 408V407M146.5 409V408M146.5 458V457M146.5 445V444M147.5 435V414" stroke="#0000ff" stroke-width="1" fill="none" shape-rendering="crispEdges"/>
<path d="M148.5 444V423M148.5 422V421M148.5 421V420M148.5 445V444M149.5 445V422M149.5 446V457M149.5 415V414M149.5 423V422M149.5 460V459M150.5 442V416M150.5 415V409M150.5 444V449M150.5 415V414M150.5 416V415M151.5 447V415M151.5 448V451M151.5 414V413M151.5 413V412M151.5 450V449M152.5 449V409M152.5 408V407M152.5 450V456M152.5 402V401M152.5 409V408M152.5 451V450M153.5 449V413M153.5 411V410M153.5 450V460M153.5 451V453M153.5 412V411M153.5 450V449M154.5 441V417M154.5 415V410M154.5 442V446M154.5 405V404M154.5 444V443M155.5 446V413M155.5 412V413M155.5 447V446M156.5 447V415M156.5 449V451M156.5 449V458M156.5 403V402M157.5 450V420M157.5 451V450M157.5 418V417M158.5 451V419M158.5 417V410M158.5 453V452M158.5 453V454M158.5 419V418M158.5 452V451M159.5 449V422M159.5 420V419M159.5 419V418M159.5 462V461M160.5 442V421M160.5 419V418M160.5 415V414M160.5 443V442M161.5 444V414M161.5 445V458M161.5 413V412M161.5 451V450" stroke="#ffd700" stroke-width="1" fill="none" shape-rendering="crispEdges"/>
<path d="M162.5 451V404M162.5 402V401M162.5 398V397M162.5 452V451M162.5 460V459M163.5 448V408M163.5 406V401M163.5 405V404M163.5 452V451M164.5 449V415M164.5 414V411M164.5 450V449M164.5 410V409M164.5 455V454M165.5 439V404M165.5 402V400M165.5 440V439M165.5 441V460M165.5 394V393M165.5 403V402M165.5 442V441M165.5 442V441M166.5 445V413M166.5 411V413M166.5 446V445M166.5 406V405M166.5 454V453M167.5 452V409M167.5 407V406M167.5 405V404M167.5 409V408M167.5 465V464M168.5 448V408M168.5 450V457M168.5 401V400M169.5 442V408M169.5 407V394M169.5 444V446M169.5 449V448M170.5 443V418M170.5 445V446M171.5 451V405M171.5 403V401M171.5 453V456M171.5 394V393" stroke="#a9a9a9" stroke-width="1" fill="none" shape-rendering="crispEdges"/>
<path d="M172.5 450V419M172.5 452V461M172.5 418V417M173.5 451V415M173.5 464V463M174.5 444V425M174.5 420V419M174.5 445V444M175.5 445V405M175.5 404V405M175.5 401V400M175.5 405V404M175.5 451V450M176.5 443V413M176.5 454V453M177.5 441V414M177.5 412V405M177.5 443V442M177.5 446V445M177.5 452V451M178.5 449V414M178.5 403V402M178.5 410V409M179.5 450V419M179.5 418V417M179.5 452V453M179.5 416V415M179.5 452V451M180.5 452V417M180.5 415V414M180.5 415V414M180.5 464V463M180.5 465V464M181.5 451V415M181.5 413V412M181.5 453V452M181.5 414V413M181.5 413V412M182.5 456V418M182.5 418V417M182.5 402V401M183.5 452V416M183.5 415V402M183.5 453V457M183.5 414V402M183.5 416V415M183.5 452V451M184.5 449V417M184.5 451V463M184.5 415V414M184.5 451V456M184.5 455V454M184.5 451V450" stroke="#ffe3c4" stroke-width="1" fill="none" shape-rendering="crispEdges"/>
<path d="M185.5 451V407M185.5 405V404M185.5 405V404M185.5 460V459M186.5 450V410M186.5 452V451M187.5 445V411M187.5 410V402M187.5 399V398M187.5 407V406M187.5 453V452M187.5 449V448M188.5 442V412M188.5 410V409M188.5 444V445M188.5 411V410M188.5 408V407M189.5 446V407M189.5 406V405M189.5 398V397M190.5 440V402M190.5 394V393M190.5 445V444M191.5 448V414M191.5 394V393M191.5 412V411M191.5 460V459M191.5 449V448M192.5 454V412M192.5 410V411M192.5 455V460M192.5 456V460M192.5 458V457M193.5 453V411M193.5 410V409M194.5 451V418M194.5 452V453M195.5 448V409M195.5 409V408M196.5 452V411M196.5 410V397M196.5 410V409M196.5 408V407" stroke="#800080" stroke-width="1" fill="none" shape-rendering="crispEdges"/>
<path d="M197.5 452V414M197.5 454V457M197.5 453V452M197.5 459V458M198.5 449V412M198.5 450V463M199.5 455V417M199.5 463V462M200.5 450V410M200.5 409V406M200.5 393V392M200.5 452V451M201.5 449V409M201.5 402V401M201.5 452V451M201.5 460V459M202.5 456V403M202.5 458V457M202.5 462V461M202.5 459V458M203.5 438V406M203.5 440V452M203.5 405V404M203.5 441V440M203.5 446V445M204.5 448V408M204.5 406V402M204.5 406V402M204.5 399V398M204.5 449V448M205.5 449V412M205.5 410V404M205.5 405V404M205.5 410V409M205.5 453V452M206.5 452V414M206.5 453V452M206.5 454V453M206.5 452V451M207.5 439V419M207.5 441V443M207.5 414V413" stroke="#0000ff" stroke-width="1" fill="none" shape-rendering="crispEdges"/>
<path d="M208.5 444V421M208.5 419V411M208.5 421V420M208.5 445V444M209.5 444V422M209.5 420V419M209.5 422V421M209.5 446V445M209.5 451V450M210.5 448V421M210.5 420V407M210.5 420V419M210.5 420V419M210.5 450V449M211.5 453V421M211.5 419V421M211.5 455V462M211.5 458V457M212.5 446V415M212.5 413V412M212.5 413V412M212.5 459V458M213.5 451V416M213.5 415V414M214.5 442V412M214.5 411V411M214.5 444V445M214.5 411V410M214.5 406V405M214.5 445V444M215.5 447V422M215.5 448V447M215.5 419V418M216.5 442V416M216.5 444V456M216.5 411V410M216.5 416V415M216.5 443V442M217.5 438V425M217.5 424V412M217.5 439V439M217.5 422V421M217.5 456V455" stroke="#ffd700" stroke-width="1" fill="none" shape-rendering="crispEdges"/>
<path d="M218.5 442V413M218.5 410V409M218.5 448V447M219.5 454V418M219.5 416V404M219.5 418V417M219.5 417V416M220.5 447V422M220.5 417V416M221.5 442V415M221.5 444V444M221.5 414V413M221.5 446V445M222.5 447V416M222.5 415V411M222.5 448V461M223.5 444V417M223.5 415V413M223.5 445V449M223.5 412V411M224.5 445V421M224.5 419V418M224.5 419V411M224.5 413V412M224.5 418V417M224.5 452V451M224.5 465V464M225.5 442V410M225.5 408V408M225.5 444V448M225.5 444V443M225.5 390V389M225.5 445V444M226.5 437V415M226.5 439V451M226.5 439V453M226.5 415V414M226.5 413V412M226.5 441V440M227.5 445V415M227.5 446V445M228.5 450V413M228.5 451V455M228.5 411V406M228.5 411V410M228.5 457V456" stroke="#a9a9a9" stroke-width="1" fill="none" shape-rendering="crispEdges"/>
<path d="M229.5 444V405M229.5 404V395M229.5 401V400M229.5 403V402M229.5 464V463M230.5 449V406M230.5 404V396M230.5 394V393M230.5 450V449M230.5 451V450M231.5 446V404M231.5 403V401M231.5 447V453M231.5 448V453M231.5 402V401M232.5 439V404M232.5 440V442M232.5 403V402M232.5 397V396M232.5 445V444M232.5 448V447M233.5 440V402M233.5 401V388M233.5 389V388M234.5 445V400M234.5 399V397M234.5 447V449M234.5 394V393M234.5 450V449M235.5 451V404M235.5 453V455M235.5 403V402M236.5 440V405M236.5 441V446M236.5 401V400M236.5 399V398M237.5 452V402M237.5 401V396M237.5 400V399M237.5 396V395M237.5 454V453M238.5 441V405M238.5 404V394M238.5 442V455M238.5 392V391M238.5 451V450" stroke="#ffe3c4" stroke-width="1" fill="none" shape-rendering="crispEdges"/>
<path d="M239.5 440V413M239.5 411V401M239.5 394V393M239.5 446V445M240.5 443V409M240.5 403V402M240.5 445V444M240.5 448V447M241.5 439V408M241.5 404V403M241.5 406V405M241.5 451V450M242.5 447V405M242.5 403V399M242.5 404V403M243.5 442V407M243.5 406V393M243.5 444V444M243.5 400V399M243.5 444V443M244.5 438V409M244.5 439V440M244.5 441V440M245.5 448V408M245.5 450V462M245.5 405V404M245.5 469V468M245.5 462V461M246.5 446V406M246.5 405V404M246.5 448V458M246.5 448V463M246.5 401V400M246.5 448V447M247.5 443V407M247.5 405V404M247.5 403V402M247.5 459V458M248.5 447V409M248.5 409V408M248.5 407V406M248.5 454V453" stroke="#800080" stroke-width="1" fill="none" shape-rendering="crispEdges"/>
<path d="M249.5 437V415M249.5 413V409M249.5 438V451M249.5 414V413M249.5 411V410M250.5 446V417M251.5 453V417M251.5 455V467M251.5 413V412M252.5 446V415M252.5 447V450M252.5 455V454M253.5 447V411M254.5 445V423M254.5 421V423M254.5 446V445M254.5 420V419M254.5 413V412M254.5 448V447M255.5 451V422M255.5 418V417M256.5 445V416M256.5 455V454" stroke="#0000ff" stroke-width="1" fill="none" shape-rendering="crispEdges"/>
<path d="M257.5 431V404M257.5 403V402M257.5 433V432M257.5 404V403M257.5 438V437M258.5 442V409M258.5 407V395M258.5 443V456M258.5 444V461M258.5 447V446M259.5 440V411M259.5 407V406M259.5 411V410M259.5 446V445M259.5 441V440M260.5 439V406M260.5 404V405M260.5 441V440M260.5 406V405M260.5 394V393M260.5 451V450M261.5 444V406M261.5 406V405M262.5 439V409M262.5 396V395M262.5 408V407M262.5 444V443M262.5 454V453M263.5 439V408M263.5 407V406M263.5 408V407M264.5 444V406M264.5 404V401" stroke="#ffd700" stroke-width="1" fill="none" shape-rendering="crispEdges"/>
<path d="M265.5 443V415M265.5 445V444M265.5 412V411M265.5 450V449M265.5 444V443M266.5 442V416M266.5 415V413M266.5 444V446M266.5 414V406M266.5 448V447M267.5 446V417M267.5 416V411M267.5 447V449M267.5 409V408M267.5 457V456M267.5 446V445M268.5 439V426M268.5 424V425M268.5 423V422M268.5 424V423M268.5 447V446M268.5 441V440M269.5 446V419M269.5 418V411M269.5 448V457M269.5 453V452M270.5 438V421M270.5 421V420M270.5 439V438M271.5 441V424M271.5 422V410M271.5 447V446M272.5 435V422M272.5 421V417M272.5 436V443M272.5 416V415M272.5 442V441" stroke="#a9a9a9" stroke-width="1" fill="none" shape-rendering="crispEdges"/>
<path d="M273.5 447V416M273.5 448V461M273.5 449V448M274.5 445V423M274.5 422V421M274.5 447V457M275.5 449V427M275.5 425V424M275.5 427V426M275.5 454V453M276.5 448V413M276.5 412V409M276.5 411V408M276.5 394V393M276.5 450V449M276.5 450V449M277.5 447V419M277.5 414V413M277.5 403V402M277.5 450V449M277.5 454V453M278.5 448V417M278.5 449V458M278.5 451V450M279.5 448V419M279.5 418V406M279.5 415V414M279.5 419V418M279.5 451V450M280.5 448V419M280.5 450V449M280.5 450V455M280.5 416V415M280.5 418V417M280.5 455V454" stroke="#ffe3c4" stroke-width="1" fill="none" shape-rendering="crispEdges"/>
<path d="M281.5 445V403M281.5 392V391M281.5 454V453M282.5 456V408M282.5 458V460M282.5 396V395M282.5 459V458M283.5 445V412M283.5 410V408M283.5 449V448M284.5 442V400M284.5 399V397M284.5 397V396M284.5 398V397M285.5 451V407M285.5 405V393M285.5 405V404M285.5 452V451M285.5 462V461M286.5 443V407M286.5 405V403M286.5 445V444M287.5 450V406M287.5 405V404M287.5 451V464M287.5 403V402M288.5 453V409M288.5 408V409M288.5 454V463M289.5 453V404M289.5 403V398M289.5 454V453M289.5 402V401M289.5 403V402M289.5 455V454M289.5 457V456" stroke="#800080" stroke-width="1" fill="none" shape-rendering="crispEdges"/>
<path d="M290.5 443V413M290.5 445V448M290.5 410V409M290.5 448V447M291.5 431V405M291.5 405V404M292.5 440V404M292.5 403V390M292.5 442V441M292.5 441V440M293.5 437V402M293.5 401V399M293.5 439V440M293.5 403V402M293.5 456V455M293.5 440V439M294.5 438V403M294.5 401V403M294.5 440V442M294.5 403V402M295.5 434V414M295.5 413V407M295.5 436V439M295.5 395V394M296.5 443V411M296.5 410V400M296.5 403V402M296.5 404V403" stroke="#0000ff" stroke-width="1" fill="none" shape-rendering="crispEdges"/>
<path d="M297.5 450V407M297.5 451V450M297.5 405V406M297.5 403V402M297.5 396V395M298.5 446V414M298.5 412V405M298.5 448V451M298.5 414V413M298.5 448V447M299.5 441V412M299.5 411V398M299.5 412V411M299.5 412V411M299.5 444V443M300.5 444V413M300.5 446V458M300.5 412V411M300.5 446V445M300.5 447V446M301.5 446V414M301.5 447V446M301.5 448V458M301.5 401V400M301.5 406V405M301.5 448V447M302.5 443V404M302.5 445V447M302.5 397V396M302.5 464V463" stroke="#ffd700" stroke-width="1" fill="none" shape-rendering="crispEdges"/>
<path d="M303.5 445V412M303.5 411V409M303.5 412V411M303.5 455V454M303.5 447V446M304.5 443V423M304.5 421V420M304.5 420V419M304.5 447V446M304.5 458V457M305.5 442V424M305.5 443V442M305.5 422V421M305.5 462V461M306.5 456V419M306.5 457V456M306.5 418V417M306.5 476V475M306.5 457V456M307.5 451V416M307.5 415V414M307.5 452V458M307.5 416V415M307.5 415V414M307.5 453V452M307.5 451V450M308.5 441V422M308.5 442V441M308.5 443V456M308.5 405V404M308.5 412V411M308.5 444V443M308.5 445V444M309.5 446V419M309.5 417V419M309.5 447V448M309.5 417V416" stroke="#a9a9a9" stroke-width="1" fill="none" shape-rendering="crispEdges"/>
<path d="M310.5 444V419M310.5 445V450M311.5 446V407M311.5 406V402M311.5 448V449M311.5 405V404M311.5 453V452M312.5 446V413M312.5 414V413M312.5 459V458M313.5 450V413M313.5 451V457M313.5 407V406M313.5 453V452M314.5 453V422M314.5 420V419M314.5 455V454M314.5 459V458M314.5 457V456" stroke="#ffe3c4" stroke-width="1" fill="none" shape-rendering="crispEdges"/>
<path d="M315.5 451V409M315.5 408V409M315.5 408V407M315.5 406V405M315.5 452V451M316.5 451V415M316.5 414V401M316.5 453V452M316.5 414V413M317.5 448V406M317.5 405V397M317.5 449V457M317.5 407V406M317.5 402V401M317.5 454V453M318.5 447V406M318.5 405V404M318.5 405V404M318.5 448V447M319.5 451V408M319.5 406V405M319.5 407V406M319.5 453V452M320.5 457V409M320.5 408V406M321.5 451V401M321.5 400V392M321.5 396V395" stroke="#800080" stroke-width="1" fill="none" shape-rendering="crispEdges"/>
<path d="M322.5 443V421M322.5 419V413M322.5 405V404M323.5 441V413M323.5 412V412M323.5 442V442M323.5 403V402M323.5 442V441M323.5 452V451M324.5 440V413M324.5 442V441M324.5 402V401M324.5 410V409M324.5 443V442M325.5 440V410M325.5 442V440M325.5 406V405M325.5 442V441M326.5 453V416M326.5 415V413M326.5 455V461M326.5 411V410M326.5 457V456" stroke="#0000ff" stroke-width="1" fill="none" shape-rendering="crispEdges"/>
<path d="M327.5 443V411M327.5 444V450M327.5 410V409M327.5 410V409M327.5 446V445M328.5 453V415M328.5 414V411M328.5 413V405M328.5 407V406M329.5 445V414M329.5 412V402M329.5 447V459M329.5 412V403M329.5 408V407M329.5 402V401M329.5 447V446M330.5 450V410M330.5 398V397M330.5 453V452M330.5 452V451M331.5 445V414M331.5 413V403M331.5 447V449M331.5 399V398M331.5 398V397M331.5 450V449" stroke="#ffd700" stroke-width="1" fill="none" shape-rendering="crispEdges"/>
<path d="M332.5 444V416M332.5 414V407M332.5 446V451M332.5 401V400M332.5 446V445M332.5 446V445M333.5 451V418M333.5 416V413M333.5 452V456M333.5 416V410M333.5 417V416M333.5 409V408M333.5 460V459M334.5 456V420M334.5 419V417M334.5 408V407M334.5 420V419M334.5 459V458M335.5 455V421M335.5 457V469M335.5 406V405M335.5 403V402M335.5 458V457M335.5 461V460M336.5 451V416M336.5 414V408M336.5 453V452M336.5 414V408M336.5 414V413M337.5 444V415M337.5 414V410M337.5 445V448M337.5 415V414M337.5 445V444M338.5 456V424M338.5 423V410M338.5 457V460M338.5 458V466M338.5 419V418" stroke="#a9a9a9" stroke-width="1" fill="none" shape-rendering="crispEdges"/>
<path d="M52.5 440v1M52.5 441v1M52.5 443v1M52.5 444v1M52.5 445v1M52.5 446v1M52.5 447v1M52.5 449v1M52.5 450v1M52.5 451v1M52.5 452v1M52.5 454v1M52.5 455v1M52.5 456v1M52.5 457v1M52.5 458v1M52.5 460v1M52.5 461v1M52.5 462v1M52.5 463v1M52.5 464v1M52.5 465v1M52.5 467v1M52.5 468v1M52.5 469v1M52.5 470v1" stroke="#800080" stroke-width="1" fill="none" shape-rendering="crispEdges"/>
<path d="M105.5 396v1M105.5 397v1M105.5 398v1M105.5 400v1M105.5 401v1M105.5 402v1M105.5 403v1M105.5 404v1M105.5 405v1M105.5 407v1M105.5 408v1M105.5 409v1M105.5 410v1M105.5 411v1M105.5 412v1M105.5 413v1M105.5 415v1M105.5 416v1M105.5 417v1M105.5 418v1M105.5 419v1" stroke="#a9a9a9" stroke-width="1" fill="none" shape-rendering="crispEdges"/>
<path d="M90.5 440v1M90.5 441v1M90.5 442v1M90.5 443v1M90.5 445v1M90.5 446v1M90.5 447v1M90.5 449v1M90.5 450v1M90.5 451v1M90.5 452v1M90.5 454v1M90.5 455v1M90.5 456v1M90.5 457v1M90.5 458v1M90.5 460v1M90.5 461v1M90.5 462v1" stroke="#ffd700" stroke-width="1" fill="none" shape-rendering="crispEdges"/>
<path d="M68.5 440v1M68.5 441v1M68.5 442v1M68.5 444v1M68.5 445v1M68.5 447v1M68.5 448v1M68.5 449v1M68.5 450v1M68.5 451v1M68.5 452v1M68.5 453v1M68.5 454v1M68.5 456v1M68.5 457v1M68.5 458v1M68.5 460v1" stroke="#0000ff" stroke-width="1" fill="none" shape-rendering="crispEdges"/>
<path d="M42.8 391V475H338.7" stroke="#aaa" stroke-width="0.7" fill="none"/>
<path d="M42.8 411.3H338.7" stroke="#666" stroke-width="0.8"/>
<text x="41" y="395.9" font-size="5" text-anchor="end" fill="#333" >4</text>
<text x="41" y="405.3" font-size="5" text-anchor="end" fill="#333" >3</text>
<text x="41" y="414.7" font-size="5" text-anchor="end" fill="#333" >2</text>
<text x="41" y="424.1" font-size="5" text-anchor="end" fill="#333" >1</text>
<text x="41" y="433.5" font-size="5" text-anchor="end" fill="#333" >0</text>
<text x="41" y="442.9" font-size="5" text-anchor="end" fill="#333" >-1</text>
<text x="41" y="452.3" font-size="5" text-anchor="end" fill="#333" >-2</text>
<text x="41" y="461.7" font-size="5" text-anchor="end" fill="#333" >-3</text>
<text x="41" y="471.1" font-size="5" text-anchor="end" fill="#333" >-4</text>
<text x="52.7" y="480.2" font-size="5" text-anchor="middle" fill="#333" >1</text>
<text x="85.5" y="480.2" font-size="5" text-anchor="middle" fill="#333" >3</text>
<text x="114" y="480.2" font-size="5" text-anchor="middle" fill="#333" >5</text>
<text x="141.5" y="480.2" font-size="5" text-anchor="middle" fill="#333" >7</text>
<text x="167" y="480.2" font-size="5" text-anchor="middle" fill="#333" >9</text>
<text x="191.5" y="480.2" font-size="5" text-anchor="middle" fill="#333" >11</text>
<text x="213" y="480.2" font-size="5" text-anchor="middle" fill="#333" >13</text>
<text x="234.5" y="480.2" font-size="5" text-anchor="middle" fill="#333" >15</text>
<text x="252.9" y="480.2" font-size="5" text-anchor="middle" fill="#333" >17</text>
<text x="269" y="480.2" font-size="5" text-anchor="middle" fill="#333" >19</text>
<text x="285.1" y="480.2" font-size="5" text-anchor="middle" fill="#333" >21</text>
<text x="300" y="480.2" font-size="5" text-anchor="middle" fill="#333" >23</text>
<text x="312.7" y="480.2" font-size="5" text-anchor="middle" fill="#333" >25</text>
<text x="324.2" y="480.2" font-size="5" text-anchor="middle" fill="#333" >27</text>
<text x="335" y="480.2" font-size="5" text-anchor="middle" fill="#333" >29</text>
<text x="30.2" y="438" font-size="9.3" text-anchor="middle" fill="#111" transform="rotate(-90 30.2 438)" >XP-EHH</text>
<rect x="517.5" y="26.7" width="71.1" height="82.5" fill="#cccccc"/>
<rect x="660.2" y="26.7" width="61.4" height="82.5" fill="#cccccc"/>
<rect x="517.5" y="115.5" width="71.1" height="82.9" fill="#cccccc"/>
<rect x="660.2" y="115.5" width="61.4" height="82.9" fill="#cccccc"/>
<rect x="517.5" y="204.4" width="71.1" height="82.1" fill="#cccccc"/>
<rect x="660.2" y="204.4" width="61.4" height="82.1" fill="#cccccc"/>
<path d="M435.7 56.2L436.6 71M436.6 71L437.4 65.2M437.4 65.2L438.2 66.5M438.2 66.5L439 68.5M439 68.5L439.9 69.8M439.9 69.8L440.7 70.2M440.7 70.2L441.8 62.8M441.8 62.8L443.1 49.6M443.1 49.6L444.4 62.8M444.4 62.8L445.4 59.2M445.4 59.2L446.4 48.8M446.4 48.8L447.7 60.3M447.7 60.3L448.9 52.1M448.9 52.1L449.7 54.7M449.7 54.7L450.5 57.8M450.5 57.8L451.3 69.3M451.3 69.3L452.1 58.3M452.1 58.3L453 47.2M453 47.2L454.2 56.5M454.2 56.5L455.5 64.4M455.5 64.4L456.3 66M456.3 66L457.1 72.6M457.1 72.6L458.1 68.2M458.1 68.2L459.2 63.6M459.2 63.6L460.2 67.9M460.2 67.9L461.2 70.2M461.2 70.2L462 67.6M462 67.6L462.8 60.3M462.8 60.3L463.6 43.9M463.6 43.9L464.5 34M464.5 34L465.3 41.1M465.3 41.1L466.1 51.3M466.1 51.3L467.4 60.3M467.4 60.3L468.4 50M468.4 50L469.4 46.3M469.4 46.3L470.6 47.6M470.6 47.6L471.9 43.9M471.9 43.9L472.7 47.1M472.7 47.1L473.5 47.2M473.5 47.2L474.4 40.6M474.4 40.6L475.2 41.4M475.2 41.4L476.3 56.2M476.3 56.2L477.9 41.4M477.9 41.4L479 44.9M479 44.9L480.1 40.6M480.1 40.6L481.7 59.5M481.7 59.5L482.9 51.3M482.9 51.3L483.9 60.8M483.9 60.8L485 62.8M485 62.8L485.8 54.2M485.8 54.2L486.6 43.1M486.6 43.1L487.5 51.4M487.5 51.4L488.3 57.8M488.3 57.8L489.4 49.3M489.4 49.3L490.4 46.3M490.4 46.3L491.4 50.3M491.4 50.3L492.4 62M492.4 62L493.9 67.5M493.9 67.5L495.4 72.6M495.4 72.6L496.2 59.2M496.2 59.2L497 52.9M497 52.9L497.8 52.9M497.8 52.9L498.6 57.8M498.6 57.8L499.5 50M499.5 50L500.3 46.3M500.3 46.3L501.2 40.1M501.2 40.1L502.2 41.4M502.2 41.4L503.3 35.8M503.3 35.8L504.4 30.7M504.4 30.7L505.9 46.3M505.9 46.3L506.7 48.3M506.7 48.3L507.5 51.3M507.5 51.3L508.3 52M508.3 52L509.1 47.2M509.1 47.2L510.2 54.3M510.2 54.3L511.3 61.1M511.3 61.1L512.9 71M512.9 71L514.1 48.8M514.1 48.8L515.4 48.8M515.4 48.8L516.2 69.3M516.2 69.3L517.4 90.7M588.3 85.7L590.3 64.1M590.3 64.1L591.3 64.5M591.3 64.5L592.4 73.4M592.4 73.4L593.6 73.1M593.6 73.1L594.8 70.3M594.8 70.3L595.6 76.7M595.6 76.7L596.5 77.5M596.5 77.5L597.3 77.2M597.3 77.2L598.1 81.6M598.1 81.6L599.4 63.6M599.4 63.6L600.6 53.9M600.6 53.9L601.9 46.6M601.9 46.6L603.1 42.6M603.1 42.6L603.9 52.3M603.9 52.3L604.7 52.8M604.7 52.8L606.3 47.7M606.3 47.7L607.8 55.9M607.8 55.9L608.8 91.9M608.8 91.9L609.8 79.1M609.8 79.1L610.9 61.1M610.9 61.1L611.7 51.6M611.7 51.6L612.5 49.8M612.5 49.8L613.4 44.7M613.4 44.7L614.3 44.6M614.3 44.6L615.1 61.2M615.1 61.2L616 85.7M616 85.7L617.4 61.1M617.4 61.1L618.2 62.8M618.2 62.8L619.1 73.4M619.1 73.4L620.7 65.1M620.7 65.1L622.2 50.8M622.2 50.8L623.2 66M623.2 66L624.2 87.7M624.2 87.7L625.2 73.9M625.2 73.9L626.3 59M626.3 59L627.3 54.9M627.3 54.9L628.3 51.8M628.3 51.8L629.3 58.5M629.3 58.5L630.4 71.3M630.4 71.3L631.4 68.5M631.4 68.5L632.4 61.1M632.4 61.1L633.5 59.5M633.5 59.5L634.5 65.2M634.5 65.2L635.5 70.7M635.5 70.7L636.5 73.4M636.5 73.4L637.5 63.4M637.5 63.4L638.6 61.1M638.6 61.1L639.8 56.2M639.8 56.2L641 52.9M641 52.9L642 69.3M642 69.3L643 60.3M643 60.3L644.1 57M644.1 57L645.2 62.9M645.2 62.9L646.2 73.4M646.2 73.4L647.2 72M647.2 72L648.2 61.1M648.2 61.1L649 67.2M649 67.2L649.9 67.2M649.9 67.2L651.3 61.1M651.3 61.1L652.7 86.7M652.7 86.7L653.5 66.3M653.5 66.3L654.4 49.8M654.4 49.8L655.2 63.4M655.2 63.4L656 69.3M656 69.3L657 72.6M657 72.6L658.1 81.6M658.1 81.6L659.5 71.3M721.6 104L722.8 90M722.8 90L724 60M724 60L725.2 43.6M725.2 43.6L726.3 55M726.3 55L727.3 65M727.3 65L728.7 63M728.7 63L730.3 69.3M730.3 69.3L731.3 60M731.3 60L732.4 57M732.4 57L733.2 51.7M733.2 51.7L734 52M734 52L735.5 49.8M735.5 49.8L736.5 61M736.5 61L737.4 68.9M737.4 68.9L738.2 70.3M738.2 70.3L739.4 66M739.4 66L740.6 75.4M740.6 75.4L741.7 79M741.7 79L742.7 77.5M742.7 77.5L743.7 72M743.7 72L744.7 81.6M744.7 81.6L745.8 82.7M745.8 82.7L746.8 87.8M746.8 87.8L747.8 95M747.8 95L748.8 70M748.8 70L749.9 53.9M749.9 53.9L750.9 58M750.9 58L751.9 61M751.9 61L753 72M753 72L754 81.6M754 81.6L755 74M755 74L756 69.3M756 69.3L757.5 39.5M757.5 39.5L758.7 71.3M758.7 71.3L759.5 90.8M759.5 90.8L760.3 75M760.3 75L761.1 64.1M761.1 64.1L761.6 64.8" stroke="#e3262a" stroke-width="0.75" fill="none" stroke-linejoin="round"/>
<path d="M517.4 90.7L518.5 94.8M518.5 94.8L519.5 95.6M519.5 95.6L520.3 98.5M520.3 98.5L521.1 101.4M521.1 101.4L522.2 95M522.2 95L523.4 92.3M523.4 92.3L524.6 85.7M524.6 85.7L526 80M526 80L527.3 75.4M527.3 75.4L528.2 78.9M528.2 78.9L529.2 87.8M529.2 87.8L530.5 90.7M530.5 90.7L531.8 81.6M531.8 81.6L533.3 92.7M533.3 92.7L534.9 91.9M534.9 91.9L536.5 92.9M536.5 92.9L538 85.7M538 85.7L539.5 86.1M539.5 86.1L541.1 81.6M541.1 81.6L542.3 74.8M542.3 74.8L543.5 72.4M543.5 72.4L544.9 81M544.9 81L546.2 96M546.2 96L547.8 89.4M547.8 89.4L549.3 87.8M549.3 87.8L550.8 79.5M550.8 79.5L552.4 81.6M552.4 81.6L553.9 89.9M553.9 89.9L555.4 91.9M555.4 91.9L557 85.6M557 85.6L558.5 81.6M558.5 81.6L560 90.4M560 90.4L561.6 90.8M561.6 90.8L563.2 85.8M563.2 85.8L564.7 83.6M564.7 83.6L566.2 88.1M566.2 88.1L567.7 81.6M567.7 81.6L569.2 89.9M569.2 89.9L570.8 89.8M570.8 89.8L572.3 81.8M572.3 81.8L573.9 85.7M573.9 85.7L575.5 80.2M575.5 80.2L577 81.6M577 81.6L578.5 88.6M578.5 88.6L580.1 85.7M580.1 85.7L581.6 82.2M581.6 82.2L583.1 79.5M583.1 79.5L584.7 83.2M584.7 83.2L586.2 75.4M586.2 75.4L587.2 79.3M587.2 79.3L588.3 85.7M659.5 71.3L661.6 75.4M661.6 75.4L662.6 77.2M662.6 77.2L663.6 81.6M663.6 81.6L664.7 83.8M664.7 83.8L665.7 77.5M665.7 77.5L666.7 84.4M666.7 84.4L667.7 87.8M667.7 87.8L668.8 88.1M668.8 88.1L669.8 98M669.8 98L671.3 98.8M671.3 98.8L672.9 87.8M672.9 87.8L674.4 86.4M674.4 86.4L675.9 91.9M675.9 91.9L677.5 85.9M677.5 85.9L679 85.7M679 85.7L680.5 86.9M680.5 86.9L682.1 81.6M682.1 81.6L683.1 86.7M683.1 86.7L684.1 96M684.1 96L685.7 87.4M685.7 87.4L687.2 83.7M687.2 83.7L688.8 77.5M688.8 77.5L690.3 81.6M690.3 81.6L691.8 80.8M691.8 80.8L693.4 89.8M693.4 89.8L695 91.8M695 91.8L696.5 91.9M696.5 91.9L698 91.9M698 91.9L699.5 98M699.5 98L701 97.2M701 97.2L702.6 93.9M702.6 93.9L704.2 89.3M704.2 89.3L705.7 87.8M705.7 87.8L707.2 88.2M707.2 88.2L708.8 89.8M708.8 89.8L710.3 91.2M710.3 91.2L711.9 81.6M711.9 81.6L712.9 92.2M712.9 92.2L713.9 103.2M713.9 103.2L715 95.3M715 95.3L716 85.7M716 85.7L717 97.8M717 97.8L718 101.1M718 101.1L719 91.6M719 91.6L720.1 89.8M720.1 89.8L721.6 104" stroke="#e3a2a2" stroke-width="0.75" fill="none" stroke-linejoin="round"/>
<path d="M435.5 57.4L437 69.5M437 69.5L437.8 67.1M437.8 67.1L438.3 66.1M438.3 66.1L438.7 66.2M438.7 66.2L440.2 68.5M440.2 68.5L440.9 69M440.9 69L442.1 63.3M442.1 63.3L442.9 48M442.9 48L444.6 60.6M444.6 60.6L445.2 59.5M445.2 59.5L446.7 49.4M446.7 49.4L447.5 62.4M447.5 62.4L448.7 49.7M448.7 49.7L449.5 54.4M449.5 54.4L450.1 56.2M450.1 56.2L451.2 69.7M451.2 69.7L451.9 57.6M451.9 57.6L453.3 49.6M453.3 49.6L454.4 57.5M454.4 57.5L455.6 62.6M455.6 62.6L455.9 63.6M455.9 63.6L457.4 73.6M457.4 73.6L458.5 65.8M458.5 65.8L459.3 63.5M459.3 63.5L460.4 67M460.4 67L461.6 68.1M461.6 68.1L462 68.8M462 68.8L463.1 61.5M463.1 61.5L463.8 45.4M463.8 45.4L464.8 33.3M464.8 33.3L465.4 43.1M465.4 43.1L466.4 50.9M466.4 50.9L467.6 62.1M467.6 62.1L468.5 50.7M468.5 50.7L469.3 46.7M469.3 46.7L470.7 45.5M470.7 45.5L472 46.4M472 46.4L473 48.2M473 48.2L473.4 48.4M473.4 48.4L474.4 40.3M474.4 40.3L475.5 39.3M475.5 39.3L476.5 53.8M476.5 53.8L478 41.3M478 41.3L478.8 45.8M478.8 45.8L480.1 41.2M480.1 41.2L482 58.3M482 58.3L482.5 50.3M482.5 50.3L484.1 59.3M484.1 59.3L484.7 64.8M484.7 64.8L485.9 53.9M485.9 53.9L486.9 42.2M486.9 42.2L487.6 49.9M487.6 49.9L488.2 59.3M488.2 59.3L489.7 51.2M489.7 51.2L490.3 46.7M490.3 46.7L491.3 48.5M491.3 48.5L492.4 63.7M492.4 63.7L494.2 68.6M494.2 68.6L495.8 71.5M495.8 71.5L495.9 59M495.9 59L496.8 51.5M496.8 51.5L497.7 53.5M497.7 53.5L498.6 56.9M498.6 56.9L499.7 52.4M499.7 52.4L500.3 44.2M500.3 44.2L500.9 42M500.9 42L501.8 42.4M501.8 42.4L503.4 34.8M503.4 34.8L504.6 28.3M504.6 28.3L505.6 46.1M505.6 46.1L506.3 50M506.3 50L507.3 49.5M507.3 49.5L507.9 52.6M507.9 52.6L509.1 47.8M509.1 47.8L510.3 55.8M510.3 55.8L511.7 62M511.7 62L512.7 70.9M512.7 70.9L513.8 46.4M513.8 46.4L515.4 49.9M515.4 49.9L515.9 68.2M515.9 68.2L517.3 91.7M588.4 87.8L590 65.5M590 65.5L591 63M591 63L592.2 74.3M592.2 74.3L593.5 72.4M593.5 72.4L594.9 68.3M594.9 68.3L595.8 74.8M595.8 74.8L596.5 76.3M596.5 76.3L597.1 77.4M597.1 77.4L598 81M598 81L599.3 63.8M599.3 63.8L600.3 52.4M600.3 52.4L602 47.3M602 47.3L603.1 44.4M603.1 44.4L604 54.1M604 54.1L604.5 54M604.5 54L606.5 49.7M606.5 49.7L607.7 55M607.7 55L609.1 90.5M609.1 90.5L610.2 81M610.2 81L610.6 59.8M610.6 59.8L611.9 50.4M611.9 50.4L612.2 51.5M612.2 51.5L613.3 46.1M613.3 46.1L614 44.1M614 44.1L615.3 58.7M615.3 58.7L615.8 86.6M615.8 86.6L617.7 63.4M617.7 63.4L617.9 62.9M617.9 62.9L619.3 73.4M619.3 73.4L620.8 63.5M620.8 63.5L621.9 48.8M621.9 48.8L622.8 66.3M622.8 66.3L624.2 88M624.2 88L625 72.4M625 72.4L626.1 60.7M626.1 60.7L627.7 57M627.7 57L628 49.6M628 49.6L629.7 58.3M629.7 58.3L630.6 70.4M630.6 70.4L631.4 68.6M631.4 68.6L632.3 61.6M632.3 61.6L633.1 60.5M633.1 60.5L634.8 63.6M634.8 63.6L635.5 71.9M635.5 71.9L636.4 71.9M636.4 71.9L637.3 63.5M637.3 63.5L638.2 63.1M638.2 63.1L640 57.2M640 57.2L641.3 53.5M641.3 53.5L641.9 69.8M641.9 69.8L643.1 62.7M643.1 62.7L644.3 55.8M644.3 55.8L645.5 64.1M645.5 64.1L646.4 75M646.4 75L647.1 73.9M647.1 73.9L648.5 62.1M648.5 62.1L649.3 68.5M649.3 68.5L649.8 68.3M649.8 68.3L651 60.3M651 60.3L652.7 84.3M652.7 84.3L653.4 67M653.4 67L654.5 48.5M654.5 48.5L655.6 64.2M655.6 64.2L655.9 70.1M655.9 70.1L657.1 72.7M657.1 72.7L658 84.1M658 84.1L659.6 72.3M721.4 104.9L722.9 90.5M722.9 90.5L724.1 61.3M724.1 61.3L725 42.3M725 42.3L726.7 57.1M726.7 57.1L727.6 62.7M727.6 62.7L728.3 61.9M728.3 61.9L730.2 69.9M730.2 69.9L731 60.2M731 60.2L732.1 54.9M732.1 54.9L733.3 52M733.3 52L734.1 51.4M734.1 51.4L735.5 48.4M735.5 48.4L736.4 62.2M736.4 62.2L737.6 66.8M737.6 66.8L737.9 71.8M737.9 71.8L739.5 67.3M739.5 67.3L740.4 75M740.4 75L741.5 80.5M741.5 80.5L742.6 78.3M742.6 78.3L744.1 71.1M744.1 71.1L744.7 82.8M744.7 82.8L746.1 82.3M746.1 82.3L746.7 85.8M746.7 85.8L748.1 92.9M748.1 92.9L748.5 70.3M748.5 70.3L749.9 54.8M749.9 54.8L750.7 59.4M750.7 59.4L751.6 59.6M751.6 59.6L753.1 69.9M753.1 69.9L753.8 82.7M753.8 82.7L755.2 72.9M755.2 72.9L755.7 68.6M755.7 68.6L757.7 38.8M757.7 38.8L758.4 72.3M758.4 72.3L759.6 92.9M759.6 92.9L760.7 77.1M760.7 77.1L761.1 65.6M761.1 65.6L761.4 63.9" stroke="#ee6a6a" stroke-width="0.45" fill="none" stroke-linejoin="round"/>
<path d="M517.3 91.7L518.5 95.4M518.5 95.4L519.7 95.1M519.7 95.1L520.5 100.5M520.5 100.5L520.8 103.6M520.8 103.6L522.4 93.1M522.4 93.1L523.4 92.9M523.4 92.9L524.9 85.1M524.9 85.1L526 81.9M526 81.9L527.5 77.6M527.5 77.6L528.2 79.7M528.2 79.7L529 88.9M529 88.9L530.8 91.4M530.8 91.4L532 80.2M532 80.2L533.7 95.1M533.7 95.1L535.3 92.1M535.3 92.1L536.7 92M536.7 92L538.3 87.5M538.3 87.5L539.4 84.1M539.4 84.1L541.1 81.9M541.1 81.9L542.5 74.7M542.5 74.7L543.1 73.9M543.1 73.9L544.5 82.5M544.5 82.5L545.9 95.2M545.9 95.2L548 87.6M548 87.6L549 87.9M549 87.9L551 81.2M551 81.2L552.6 83.8M552.6 83.8L553.9 92.2M553.9 92.2L555.1 90.5M555.1 90.5L557 84.5M557 84.5L558.7 82.3M558.7 82.3L560.1 92.1M560.1 92.1L561.6 89.9M561.6 89.9L563.1 87.6M563.1 87.6L565 82.1M565 82.1L566.5 90.4M566.5 90.4L567.7 82M567.7 82L569 90M569 90L570.8 90.3M570.8 90.3L572 84.1M572 84.1L573.9 85.2M573.9 85.2L575.7 80.5M575.7 80.5L577 82.6M577 82.6L578.2 88.8M578.2 88.8L580 88M580 88L581.9 81.1M581.9 81.1L583.1 77.6M583.1 77.6L584.6 84.8M584.6 84.8L586.5 75.3M586.5 75.3L587.1 77.8M587.1 77.8L588.4 87.8M659.6 72.3L661.8 77.8M661.8 77.8L662.2 77.8M662.2 77.8L663.8 80.4M663.8 80.4L664.6 81.6M664.6 81.6L665.5 76.9M665.5 76.9L666.4 83.1M666.4 83.1L668 88.1M668 88.1L668.8 90.4M668.8 90.4L669.9 100.5M669.9 100.5L671.5 100.3M671.5 100.3L672.6 88.3M672.6 88.3L674.6 84.1M674.6 84.1L676.2 90.2M676.2 90.2L677.4 84.2M677.4 84.2L679 86.3M679 86.3L680.2 89.1M680.2 89.1L682 81.7M682 81.7L683.2 86.1M683.2 86.1L683.9 96.8M683.9 96.8L685.7 86.3M685.7 86.3L687.4 82.7M687.4 82.7L688.4 76.3M688.4 76.3L689.9 79.9M689.9 79.9L692.1 80.2M692.1 80.2L693.7 91M693.7 91L694.6 94.3M694.6 94.3L696.9 89.8M696.9 89.8L698.3 91.5M698.3 91.5L699.5 100.4M699.5 100.4L700.8 97.3M700.8 97.3L702.9 95M702.9 95L704.1 91.7M704.1 91.7L706 88.3M706 88.3L706.9 88.9M706.9 88.9L708.8 88.3M708.8 88.3L710 91.4M710 91.4L711.6 81.3M711.6 81.3L713 92M713 92L713.7 103.6M713.7 103.6L714.9 96.7M714.9 96.7L716 88.2M716 88.2L717.4 99M717.4 99L717.8 99.2M717.8 99.2L719.4 93.1M719.4 93.1L720.2 89.1M720.2 89.1L721.4 104.9" stroke="#e8bcbc" stroke-width="0.45" fill="none" stroke-linejoin="round"/>
<path d="M436.3 188.6L440 187M440 187L443 189M443 189L446 187.5M446 187.5L449 189M449 189L452 187.5M452 187.5L455 188.5M455 188.5L457 187M457 187L459.5 185M459.5 185L461.6 182.1M461.6 182.1L463 170M463 170L464.4 119.2M464.4 119.2L465.2 150M465.2 150L465.9 191.4M465.9 191.4L467 185M467 185L469 179.3M469 179.3L470 184M470 184L471.8 181.2M471.8 181.2L473.6 178.4M473.6 178.4L475.1 172M475.1 172L476.4 186.7M476.4 186.7L478.2 165.5M478.2 165.5L479.5 140M479.5 140L480.7 120.7M480.7 120.7L481.5 150M481.5 150L482.5 183M482.5 183L484.7 185.8M484.7 185.8L486 183M486 183L488 187M488 187L490.3 189.5M490.3 189.5L492 186M492 186L494 187M494 187L496.7 175.6M496.7 175.6L498.6 180.3M498.6 180.3L500.4 178.4M500.4 178.4L502.3 185.8M502.3 185.8L504 184M504 184L506.9 187.7M506.9 187.7L509 185M509 185L511 187M511 187L512.5 184M512.5 184L514.3 183M514.3 183L517.1 189.5M588.7 187.7L591.1 185.8M591.1 185.8L593.9 188.6M593.9 188.6L596 187M596 187L598.5 186.7M598.5 186.7L601.3 188.6M601.3 188.6L603.7 170.1M603.7 170.1L605 184M605 184L607.7 185.8M607.7 185.8L610.5 190.4M610.5 190.4L611.8 184M611.8 184L612.9 160M612.9 160L614.4 133.1M614.4 133.1L615.5 158.1M615.5 158.1L616.6 169.2M616.6 169.2L617.9 176.6M617.9 176.6L619.8 173.8M619.8 173.8L621.6 164.5M621.6 164.5L622.9 178.4M622.9 178.4L625.3 183M625.3 183L627.7 176.6M627.7 176.6L629.4 168.8M629.4 168.8L630.9 181.2M630.9 181.2L633.6 186.7M633.6 186.7L636 188M636 188L639.2 190.4M639.2 190.4L641.4 179.3M641.4 179.3L642.9 187.7M642.9 187.7L644.7 184M644.7 184L646.5 187M646.5 187L648.4 189.5M648.4 189.5L651.2 172.9M651.2 172.9L653 185.8M653 185.8L654.9 167.3M654.9 167.3L656.7 182.1M656.7 182.1L658.5 186M658.5 186L660.4 185.8M721.6 185.8L724.4 178.4M724.4 178.4L725.9 157.2M725.9 157.2L727.2 174.7M727.2 174.7L728.4 144.2M728.4 144.2L729.6 174.7M729.6 174.7L730.9 150.7M730.9 150.7L732.7 165.5M732.7 165.5L734 162.7M734 162.7L735.5 171M735.5 171L737.7 166.4M737.7 166.4L738.8 180.3M738.8 180.3L741 185.8M741 185.8L743.8 182.1M743.8 182.1L746.6 185.8M746.6 185.8L748.8 179.3M748.8 179.3L750.6 155.3M750.6 155.3L753 165.5M753 165.5L754.9 169.2M754.9 169.2L757.7 173.8M757.7 173.8L759.5 171M759.5 171L761 158.4M761 158.4L761.4 167.3" stroke="#2020c8" stroke-width="0.7" fill="none" stroke-linejoin="round"/>
<path d="M517.1 189.5L519 189.5M519 189.5L520.7 189.1M520.7 189.1L522 189.4M522 189.4L523.3 189M523.3 189L525 189.9M525 189.9L526.4 188.9M526.4 188.9L528.1 185.1M528.1 185.1L529.5 189.9M529.5 189.9L531.1 186.3M531.1 186.3L532.7 183.8M532.7 183.8L534.4 188.7M534.4 188.7L535.5 190.4M535.5 190.4L536.7 189.1M536.7 189.1L538.1 190.4M538.1 190.4L539.4 190.9M539.4 190.9L540.8 189.8M540.8 189.8L542.4 190.8M542.4 190.8L544 190.2M544 190.2L545.7 190.6M545.7 190.6L547.4 190.1M547.4 190.1L549 190.5M549 190.5L550.4 188.9M550.4 188.9L552.1 189.4M552.1 189.4L553.3 189.6M553.3 189.6L555.1 188.6M555.1 188.6L556.2 190.1M556.2 190.1L557.3 188.7M557.3 188.7L558.8 188.3M558.8 188.3L559.9 189M559.9 189L561.5 190M561.5 190L562.7 189.2M562.7 189.2L564.3 189.3M564.3 189.3L565.9 189.7M565.9 189.7L567.6 190.8M567.6 190.8L569.1 190.9M569.1 190.9L570.2 188.6M570.2 188.6L571.9 189.5M571.9 189.5L573.3 189.2M573.3 189.2L574.8 185.2M574.8 185.2L576.1 190.5M576.1 190.5L577.6 188.9M577.6 188.9L578.9 189.1M578.9 189.1L580.3 190.1M580.3 190.1L581.5 189.8M581.5 189.8L583.1 188.5M583.1 188.5L584.8 187.5M584.8 187.5L586.4 188.7M586.4 188.7L587.7 190.9M587.7 190.9L588.7 187.7M660.4 185.8L662 186M662 186L663.3 183.4M663.3 183.4L664.5 187.3M664.5 187.3L665.6 188.2M665.6 188.2L666.9 186.7M666.9 186.7L668.2 188.6M668.2 188.6L669.8 187.6M669.8 187.6L671.2 190M671.2 190L672.7 188.1M672.7 188.1L674.3 189M674.3 189L675.6 188.8M675.6 188.8L677.3 189.7M677.3 189.7L678.5 190.4M678.5 190.4L679.7 190.6M679.7 190.6L681.3 190.8M681.3 190.8L682.9 191.4M682.9 191.4L684.3 192.7M684.3 192.7L686 191.6M686 191.6L687 193.3M687 193.3L688.2 192.7M688.2 192.7L689.7 191.8M689.7 191.8L690.8 191.8M690.8 191.8L691.8 193.5M691.8 193.5L693.3 192.6M693.3 192.6L694.9 191.7M694.9 191.7L696.2 190.5M696.2 190.5L697.8 192.4M697.8 192.4L699.3 188.2M699.3 188.2L700.6 187.8M700.6 187.8L702 190.8M702 190.8L703.5 188.9M703.5 188.9L705.2 189.3M705.2 189.3L706.6 187.8M706.6 187.8L708.4 188.1M708.4 188.1L710.1 186.7M710.1 186.7L711.6 183.4M711.6 183.4L713 186.8M713 186.8L714.8 185.3M714.8 185.3L715.9 186.3M715.9 186.3L717.6 184.6M717.6 184.6L719.1 183.3M719.1 183.3L720.8 183.8M720.8 183.8L721.6 185.8" stroke="#9c9cdc" stroke-width="0.7" fill="none" stroke-linejoin="round"/>
<path d="M436.5 188L440.2 186.2M440.2 186.2L443 190M443 190L445.8 187.6M445.8 187.6L448.7 187.6M448.7 187.6L451.8 189M451.8 189L455.3 189M455.3 189L456.9 187.5M456.9 187.5L459.6 184.6M459.6 184.6L461.7 183M461.7 183L462.7 169.1M462.7 169.1L464.4 118.1M464.4 118.1L465.1 150.2M465.1 150.2L465.7 191.5M465.7 191.5L466.9 185.2M466.9 185.2L468.9 179.7M468.9 179.7L469.7 184.5M469.7 184.5L471.6 182.6M471.6 182.6L473.7 178.3M473.7 178.3L475 172.4M475 172.4L476.5 187.5M476.5 187.5L478.4 165.5M478.4 165.5L479.8 141M479.8 141L480.9 120.4M480.9 120.4L481.5 150.2M481.5 150.2L482.7 183.1M482.7 183.1L484.7 185.6M484.7 185.6L486.2 182.5M486.2 182.5L487.7 187.7M487.7 187.7L490.5 190.2M490.5 190.2L492.1 186.8M492.1 186.8L493.9 187.3M493.9 187.3L496.4 174.5M496.4 174.5L498.6 180.3M498.6 180.3L500.3 177.1M500.3 177.1L502.4 185.9M502.4 185.9L503.8 183.4M503.8 183.4L506.8 186.9M506.8 186.9L508.7 186.2M508.7 186.2L511.3 187.5M511.3 187.5L512.7 183.8M512.7 183.8L514.5 182.2M514.5 182.2L517.2 189.7M588.8 187.3L591.2 186.6M591.2 186.6L593.9 188.6M593.9 188.6L596.2 187.6M596.2 187.6L598.5 188.1M598.5 188.1L601.1 189.4M601.1 189.4L603.5 170.4M603.5 170.4L604.8 183.8M604.8 183.8L607.9 186.7M607.9 186.7L610.7 189.6M610.7 189.6L611.8 183.2M611.8 183.2L612.9 160M612.9 160L614.1 133.4M614.1 133.4L615.6 158.3M615.6 158.3L616.8 168.2M616.8 168.2L617.7 175.2M617.7 175.2L619.8 173.6M619.8 173.6L621.6 163.8M621.6 163.8L623.1 177.1M623.1 177.1L625.5 183.2M625.5 183.2L627.7 177.5M627.7 177.5L629.2 167.7M629.2 167.7L630.8 179.8M630.8 179.8L633.5 187.1M633.5 187.1L636 187.3M636 187.3L639.3 189.2M639.3 189.2L641.6 178.3M641.6 178.3L642.8 186.7M642.8 186.7L644.8 185M644.8 185L646.7 185.7M646.7 185.7L648.3 189.1M648.3 189.1L651 174.3M651 174.3L652.7 185.8M652.7 185.8L655.1 168.8M655.1 168.8L656.5 182M656.5 182L658.6 184.6M658.6 184.6L660.2 187M721.4 186.4L724.3 179.1M724.3 179.1L726 156.1M726 156.1L727 174M727 174L728.5 143.9M728.5 143.9L729.5 175.8M729.5 175.8L730.7 150.1M730.7 150.1L732.6 164.6M732.6 164.6L733.7 161.3M733.7 161.3L735.6 171.2M735.6 171.2L737.9 167.8M737.9 167.8L738.7 180.8M738.7 180.8L741.3 184.9M741.3 184.9L743.9 182.6M743.9 182.6L746.9 186.9M746.9 186.9L748.6 179.7M748.6 179.7L750.4 155.1M750.4 155.1L752.9 164.2M752.9 164.2L754.8 168.7M754.8 168.7L757.7 173.1M757.7 173.1L759.3 170.7M759.3 170.7L761 157.4M761 157.4L761.5 166.5" stroke="#5858d8" stroke-width="0.4" fill="none" stroke-linejoin="round"/>
<path d="M517.2 189.7L519.2 188.3M519.2 188.3L520.9 188M520.9 188L522 190.8M522 190.8L523 188.2M523 188.2L524.8 189.3M524.8 189.3L526.1 190.1M526.1 190.1L528.3 184.8M528.3 184.8L529.5 190.2M529.5 190.2L530.8 184.9M530.8 184.9L532.9 183.2M532.9 183.2L534.4 190M534.4 190L535.8 190.3M535.8 190.3L536.6 188.4M536.6 188.4L538.4 191.6M538.4 191.6L539.2 191.9M539.2 191.9L540.7 189.8M540.7 189.8L542.2 191.9M542.2 191.9L544.3 189.3M544.3 189.3L545.8 189.7M545.8 189.7L547.7 188.8M547.7 188.8L548.8 191.2M548.8 191.2L550.2 190.1M550.2 190.1L552.4 190.1M552.4 190.1L553.1 190.2M553.1 190.2L555.3 188.5M555.3 188.5L555.9 189.3M555.9 189.3L557.2 189.3M557.2 189.3L558.6 187.4M558.6 187.4L559.8 189.5M559.8 189.5L561.7 189.6M561.7 189.6L562.8 190.4M562.8 190.4L564.3 188.5M564.3 188.5L565.8 191M565.8 191L567.7 190.1M567.7 190.1L569.1 189.7M569.1 189.7L570.5 188.4M570.5 188.4L571.9 189.6M571.9 189.6L573 189.5M573 189.5L574.7 184.5M574.7 184.5L576.3 189.3M576.3 189.3L577.5 189.7M577.5 189.7L578.7 188.5M578.7 188.5L580.3 189.2M580.3 189.2L581.7 191.3M581.7 191.3L582.8 188.4M582.8 188.4L584.9 187.1M584.9 187.1L586.6 188.7M586.6 188.7L587.5 191.1M587.5 191.1L588.8 187.3M660.2 187L661.8 185.7M661.8 185.7L663.2 183.1M663.2 183.1L664.2 185.9M664.2 185.9L665.9 189M665.9 189L667 185.9M667 185.9L668.1 188.8M668.1 188.8L669.6 187.4M669.6 187.4L671.4 189.6M671.4 189.6L672.6 189.5M672.6 189.5L674.3 187.6M674.3 187.6L675.6 189.3M675.6 189.3L677 189.2M677 189.2L678.6 191.5M678.6 191.5L679.8 191.8M679.8 191.8L681.2 190.5M681.2 190.5L683.1 191.1M683.1 191.1L684.5 191.9M684.5 191.9L685.9 190.7M685.9 190.7L687.1 192.3M687.1 192.3L688 191.9M688 191.9L689.6 191.3M689.6 191.3L690.8 193.3M690.8 193.3L692 194.6M692 194.6L693.1 192.3M693.1 192.3L694.7 192.3M694.7 192.3L696.2 189.8M696.2 189.8L697.5 191.5M697.5 191.5L699.2 187.8M699.2 187.8L700.9 188.4M700.9 188.4L701.9 190.4M701.9 190.4L703.3 190.2M703.3 190.2L705.1 190.1M705.1 190.1L706.8 189M706.8 189L708.1 187.6M708.1 187.6L710 185.5M710 185.5L711.8 182.9M711.8 182.9L713.2 186.9M713.2 186.9L714.5 185M714.5 185L715.7 185M715.7 185L717.4 184.9M717.4 184.9L718.8 182.7M718.8 182.7L720.8 184M720.8 184L721.4 186.4" stroke="#b8b8e4" stroke-width="0.4" fill="none" stroke-linejoin="round"/>
<path d="M436 283.2L480 283M480 283L515.3 283.4M515.3 283.4L516.7 270.4M516.7 270.4L518 263.7M588.1 281.1L589.5 283.4M589.5 283.4L590.8 282.7M590.8 282.7L592.1 281.1M592.1 281.1L593.5 280.4M593.5 280.4L595.5 281.1M595.5 281.1L597.5 280.4M597.5 280.4L598.8 281.1M598.8 281.1L600 283M600 283L605 282.5M605 282.5L610 283M610 283L650 283M650 283L652 282M652 282L654 283M654 283L659.9 283M721.1 278L722.9 278.9M722.9 278.9L724.6 283.4M724.6 283.4L726.4 283.7M726.4 283.7L740 283M740 283L743 279M743 279L746 279M746 279L748 283M748 283L755 283M755 283L757.4 280.8M757.4 280.8L759 283M759 283L762 283.3" stroke="#111111" stroke-width="0.7" fill="none" stroke-linejoin="round"/>
<path d="M518 263.7L520 259.4M520 259.4L522 260M522 260L523.4 261.7M523.4 261.7L524.7 267.7M524.7 267.7L526.3 271.1M526.3 271.1L527.4 265.1M527.4 265.1L529.4 257M529.4 257L532 251.7M532 251.7L534.7 249.7M534.7 249.7L536.7 246.4M536.7 246.4L538.3 244.8M538.3 244.8L539.6 246.4M539.6 246.4L541.4 255.7M541.4 255.7L543.6 269.1M543.6 269.1L545 259.7M545 259.7L546.7 249M546.7 249L548.7 239.7M548.7 239.7L550.3 235M550.3 235L552.5 235M552.5 235L554.1 238.4M554.1 238.4L556.1 239M556.1 239L557.8 238.4M557.8 238.4L559.4 239.7M559.4 239.7L561.4 242.4M561.4 242.4L563.4 243.7M563.4 243.7L565.4 246.4M565.4 246.4L567.4 251.7M567.4 251.7L569.4 255M569.4 255L570.8 249M570.8 249L572.1 243.7M572.1 243.7L573.4 243.7M573.4 243.7L575.4 249M575.4 249L577.4 253.7M577.4 253.7L578.8 257M578.8 257L579.7 265.1M579.7 265.1L581.4 267.1M581.4 267.1L582.8 269.1M582.8 269.1L583.4 274.4M583.4 274.4L585.4 275.1M585.4 275.1L586.8 277.7M586.8 277.7L588.1 281.1M659.9 283L662.1 279.8M662.1 279.8L664.8 270.9M664.8 270.9L667.5 258.4M667.5 258.4L670.2 246.8M670.2 246.8L672.9 236.9M672.9 236.9L675.5 228.9M675.5 228.9L678.2 221.8M678.2 221.8L680.9 216.4M680.9 216.4L682.1 211.9M682.1 211.9L684.5 208.7M684.5 208.7L686.8 210.1M686.8 210.1L688.9 209.3M688.9 209.3L690.7 208.4M690.7 208.4L692.9 211M692.9 211L695.2 214.6M695.2 214.6L697 220M697 220L698.2 226.2M698.2 226.2L700 225.3M700 225.3L701.8 231.6M701.8 231.6L703.6 240.5M703.6 240.5L705.4 250.3M705.4 250.3L706.8 254.8M706.8 254.8L708.2 248.5M708.2 248.5L709.5 252.1M709.5 252.1L710.7 260.1M710.7 260.1L712.5 263.7M712.5 263.7L713.9 264.6M713.9 264.6L715.7 271.8M715.7 271.8L717.5 277.1M717.5 277.1L719.3 279.8M719.3 279.8L721.1 278" stroke="#888888" stroke-width="0.7" fill="none" stroke-linejoin="round"/>
<path d="M420 82.6H777" stroke="#555" stroke-width="0.5" stroke-dasharray="1 1"/>
<path d="M420 194.5H777" stroke="#555" stroke-width="0.5" stroke-dasharray="1 1"/>
<path d="M420 283.4H777" stroke="#666" stroke-width="0.5" stroke-dasharray="1 1"/>
<rect x="419.5" y="26.7" width="357.7" height="82.5" fill="none" stroke="#444" stroke-width="0.9"/>
<path d="M435.8 109.2v1.8M517 109.2v1.8M598.3 109.2v1.8M679.6 109.2v1.8M761.5 109.2v1.8" stroke="#444" stroke-width="0.6"/>
<rect x="419.5" y="115.5" width="357.7" height="82.9" fill="none" stroke="#444" stroke-width="0.9"/>
<path d="M435.8 198.4v1.8M517 198.4v1.8M598.3 198.4v1.8M679.6 198.4v1.8M761.5 198.4v1.8" stroke="#444" stroke-width="0.6"/>
<rect x="419.5" y="204.4" width="357.7" height="82.1" fill="none" stroke="#444" stroke-width="0.9"/>
<path d="M435.8 286.5v1.8M517 286.5v1.8M598.3 286.5v1.8M679.6 286.5v1.8M761.5 286.5v1.8" stroke="#444" stroke-width="0.6"/>
<text x="435.8" y="294" font-size="4.6" text-anchor="middle" fill="#333" >92</text>
<text x="517" y="294" font-size="4.6" text-anchor="middle" fill="#333" >94</text>
<text x="598.3" y="294" font-size="4.6" text-anchor="middle" fill="#333" >96</text>
<text x="679.6" y="294" font-size="4.6" text-anchor="middle" fill="#333" >98</text>
<text x="761.5" y="294" font-size="4.6" text-anchor="middle" fill="#333" >100</text>
<text x="416.6" y="33.4" font-size="6.2" text-anchor="end" fill="#222" transform="rotate(-90 416.6 33.4)" >4</text>
<path d="M419.5 32.6h-2" stroke="#444" stroke-width="0.6"/>
<text x="416.6" y="58.4" font-size="6.2" text-anchor="end" fill="#222" transform="rotate(-90 416.6 58.4)" >2</text>
<path d="M419.5 57.6h-2" stroke="#444" stroke-width="0.6"/>
<text x="416.6" y="83.4" font-size="6.2" text-anchor="end" fill="#222" transform="rotate(-90 416.6 83.4)" >0</text>
<path d="M419.5 82.6h-2" stroke="#444" stroke-width="0.6"/>
<text x="416.6" y="108.4" font-size="6.2" text-anchor="end" fill="#222" transform="rotate(-90 416.6 108.4)" >-2</text>
<path d="M419.5 107.6h-2" stroke="#444" stroke-width="0.6"/>
<text x="416.6" y="133.2" font-size="6.2" text-anchor="end" fill="#222" transform="rotate(-90 416.6 133.2)" >0.009</text>
<path d="M419.5 132.4h-2" stroke="#444" stroke-width="0.6"/>
<text x="416.6" y="153.9" font-size="6.2" text-anchor="end" fill="#222" transform="rotate(-90 416.6 153.9)" >0.006</text>
<path d="M419.5 153.1h-2" stroke="#444" stroke-width="0.6"/>
<text x="416.6" y="174.5" font-size="6.2" text-anchor="end" fill="#222" transform="rotate(-90 416.6 174.5)" >0.003</text>
<path d="M419.5 173.7h-2" stroke="#444" stroke-width="0.6"/>
<text x="416.6" y="195.2" font-size="6.2" text-anchor="end" fill="#222" transform="rotate(-90 416.6 195.2)" >0.000</text>
<path d="M419.5 194.4h-2" stroke="#444" stroke-width="0.6"/>
<text x="416.6" y="216.1" font-size="6.2" text-anchor="end" fill="#222" transform="rotate(-90 416.6 216.1)" >4000</text>
<path d="M419.5 215.3h-2" stroke="#444" stroke-width="0.6"/>
<text x="416.6" y="233.1" font-size="6.2" text-anchor="end" fill="#222" transform="rotate(-90 416.6 233.1)" >3000</text>
<path d="M419.5 232.3h-2" stroke="#444" stroke-width="0.6"/>
<text x="416.6" y="250.1" font-size="6.2" text-anchor="end" fill="#222" transform="rotate(-90 416.6 250.1)" >2000</text>
<path d="M419.5 249.3h-2" stroke="#444" stroke-width="0.6"/>
<text x="416.6" y="267.1" font-size="6.2" text-anchor="end" fill="#222" transform="rotate(-90 416.6 267.1)" >1000</text>
<path d="M419.5 266.3h-2" stroke="#444" stroke-width="0.6"/>
<text x="416.6" y="284.1" font-size="6.2" text-anchor="end" fill="#222" transform="rotate(-90 416.6 284.1)" >0</text>
<path d="M419.5 283.3h-2" stroke="#444" stroke-width="0.6"/>
<text x="393.2" y="77.2" font-size="8.6" text-anchor="middle" fill="#111" transform="rotate(-90 393.2 77.2)" >TajimaD</text>
<text x="389.7" y="181.6" font-size="9.1" text-anchor="start" fill="#111" transform="rotate(-90 389.7 181.6)" >Nucleotide</text>
<text x="400" y="181.6" font-size="9.0" text-anchor="start" fill="#111" transform="rotate(-90 400 181.6)" >Diversity</text>
<text x="394.6" y="244.8" font-size="9.5" text-anchor="middle" fill="#111" transform="rotate(-90 394.6 244.8)" >CLR</text>
<ellipse cx="543.8" cy="403" rx="88.2" ry="80.3" fill="#0000ff" fill-opacity="0.5" stroke="#111" stroke-width="0.6"/>
<ellipse cx="632.2" cy="403" rx="87.8" ry="80.1" fill="#ff0000" fill-opacity="0.5" stroke="#111" stroke-width="0.6"/>
<text x="502.2" y="407.7" font-size="7" text-anchor="middle" fill="#111" >834</text>
<text x="585.3" y="404.3" font-size="7" text-anchor="middle" fill="#111" >130</text>
<text x="669.6" y="405.8" font-size="7" text-anchor="middle" fill="#111" >69</text>
<text x="455.3" y="349.4" font-size="9.5" text-anchor="middle" fill="#111" >θ π</text>
<text x="720.8" y="350.6" font-size="10" text-anchor="middle" fill="#111" >CLR</text>
<text x="-0.6" y="18.6" font-size="21.5">A</text>
<text x="386.5" y="21.9" font-size="21">B</text>
<text x="384.5" y="345.3" font-size="21">C</text>
</svg>
</body></html>
